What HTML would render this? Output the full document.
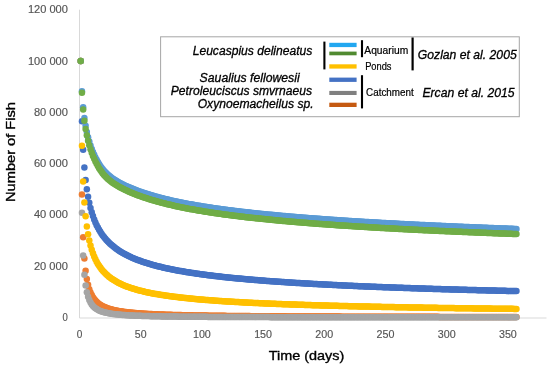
<!DOCTYPE html>
<html><head><meta charset="utf-8"><title>Number of Fish over Time</title>
<style>html,body{margin:0;padding:0;background:#fff}svg{display:block}text{font-family:"Liberation Sans",sans-serif}</style></head><body>
<svg width="550" height="370" viewBox="0 0 550 370">
<rect width="550" height="370" fill="#fff"/>
<line x1="79.5" y1="9.7" x2="79.5" y2="318.0" stroke="#d9d9d9" stroke-width="1"/>
<line x1="79.5" y1="318.0" x2="546.5" y2="318.0" stroke="#d9d9d9" stroke-width="1"/>
<text x="67.9" y="321.0" font-size="10.6" fill="#555" stroke="#555" stroke-width="0.15" text-anchor="end" textLength="5.3" lengthAdjust="spacingAndGlyphs">0</text>
<text x="67.9" y="269.7" font-size="10.6" fill="#555" stroke="#555" stroke-width="0.15" text-anchor="end" textLength="34.0" lengthAdjust="spacingAndGlyphs">20 000</text>
<text x="67.9" y="218.4" font-size="10.6" fill="#555" stroke="#555" stroke-width="0.15" text-anchor="end" textLength="34.0" lengthAdjust="spacingAndGlyphs">40 000</text>
<text x="67.9" y="167.1" font-size="10.6" fill="#555" stroke="#555" stroke-width="0.15" text-anchor="end" textLength="34.0" lengthAdjust="spacingAndGlyphs">60 000</text>
<text x="67.9" y="115.8" font-size="10.6" fill="#555" stroke="#555" stroke-width="0.15" text-anchor="end" textLength="34.0" lengthAdjust="spacingAndGlyphs">80 000</text>
<text x="67.9" y="64.5" font-size="10.6" fill="#555" stroke="#555" stroke-width="0.15" text-anchor="end" textLength="40.0" lengthAdjust="spacingAndGlyphs">100 000</text>
<text x="67.9" y="13.2" font-size="10.6" fill="#555" stroke="#555" stroke-width="0.15" text-anchor="end" textLength="40.0" lengthAdjust="spacingAndGlyphs">120 000</text>
<text x="79.5" y="338.0" font-size="10.6" fill="#555" stroke="#555" stroke-width="0.15" text-anchor="middle" textLength="5.6" lengthAdjust="spacingAndGlyphs">0</text>
<text x="140.7" y="338.0" font-size="10.6" fill="#555" stroke="#555" stroke-width="0.15" text-anchor="middle" textLength="11.7" lengthAdjust="spacingAndGlyphs">50</text>
<text x="201.9" y="338.0" font-size="10.6" fill="#555" stroke="#555" stroke-width="0.15" text-anchor="middle" textLength="17.9" lengthAdjust="spacingAndGlyphs">100</text>
<text x="263.1" y="338.0" font-size="10.6" fill="#555" stroke="#555" stroke-width="0.15" text-anchor="middle" textLength="17.9" lengthAdjust="spacingAndGlyphs">150</text>
<text x="324.3" y="338.0" font-size="10.6" fill="#555" stroke="#555" stroke-width="0.15" text-anchor="middle" textLength="17.9" lengthAdjust="spacingAndGlyphs">200</text>
<text x="385.5" y="338.0" font-size="10.6" fill="#555" stroke="#555" stroke-width="0.15" text-anchor="middle" textLength="17.9" lengthAdjust="spacingAndGlyphs">250</text>
<text x="446.7" y="338.0" font-size="10.6" fill="#555" stroke="#555" stroke-width="0.15" text-anchor="middle" textLength="17.9" lengthAdjust="spacingAndGlyphs">300</text>
<text x="507.9" y="338.0" font-size="10.6" fill="#555" stroke="#555" stroke-width="0.15" text-anchor="middle" textLength="17.9" lengthAdjust="spacingAndGlyphs">350</text>
<text transform="translate(15.2,152) rotate(-90)" font-size="13" fill="#000" stroke="#000" stroke-width="0.35" text-anchor="middle" textLength="100" lengthAdjust="spacingAndGlyphs">Number of Fish</text>
<text x="306.5" y="360.1" font-size="13.2" fill="#000" stroke="#000" stroke-width="0.35" text-anchor="middle" textLength="75.6" lengthAdjust="spacingAndGlyphs">Time (days)</text>
<g fill="#4472C4">
<circle cx="80.72" cy="61.00" r="3.25"/>
<circle cx="81.95" cy="121.35" r="3.25"/>
<circle cx="83.17" cy="149.84" r="3.25"/>
<circle cx="84.40" cy="167.50" r="3.25"/>
<circle cx="85.62" cy="179.91" r="3.25"/>
<circle cx="86.84" cy="189.28" r="3.25"/>
<circle cx="88.07" cy="196.71" r="3.25"/>
<circle cx="89.29" cy="202.79" r="3.25"/>
<circle cx="90.52" cy="207.90" r="3.25"/>
<circle cx="91.74" cy="212.28" r="3.25"/>
<circle cx="92.96" cy="216.09" r="3.25"/>
<circle cx="94.19" cy="219.45" r="3.25"/>
<circle cx="95.41" cy="222.44" r="3.25"/>
<circle cx="96.64" cy="225.13" r="3.25"/>
<circle cx="97.86" cy="227.56" r="3.25"/>
<circle cx="99.08" cy="229.78" r="3.25"/>
<circle cx="100.31" cy="231.82" r="3.25"/>
<circle cx="101.53" cy="233.69" r="3.25"/>
<circle cx="102.76" cy="235.43" r="3.25"/>
<circle cx="103.98" cy="237.04" r="3.25"/>
<circle cx="105.20" cy="238.54" r="3.25"/>
<circle cx="106.43" cy="239.95" r="3.25"/>
<circle cx="107.65" cy="241.27" r="3.25"/>
<circle cx="108.88" cy="242.52" r="3.25"/>
<circle cx="110.10" cy="243.70" r="3.25"/>
<circle cx="111.32" cy="244.81" r="3.25"/>
<circle cx="112.55" cy="245.86" r="3.25"/>
<circle cx="113.77" cy="246.86" r="3.25"/>
<circle cx="115.00" cy="247.81" r="3.25"/>
<circle cx="116.22" cy="248.72" r="3.25"/>
<circle cx="117.44" cy="249.59" r="3.25"/>
<circle cx="118.67" cy="250.42" r="3.25"/>
<circle cx="119.89" cy="251.21" r="3.25"/>
<circle cx="121.12" cy="251.98" r="3.25"/>
<circle cx="122.34" cy="252.71" r="3.25"/>
<circle cx="123.56" cy="253.41" r="3.25"/>
<circle cx="124.79" cy="254.08" r="3.25"/>
<circle cx="126.01" cy="254.74" r="3.25"/>
<circle cx="127.24" cy="255.36" r="3.25"/>
<circle cx="128.46" cy="255.97" r="3.25"/>
<circle cx="129.68" cy="256.55" r="3.25"/>
<circle cx="130.91" cy="257.12" r="3.25"/>
<circle cx="132.13" cy="257.67" r="3.25"/>
<circle cx="133.36" cy="258.20" r="3.25"/>
<circle cx="134.58" cy="258.71" r="3.25"/>
<circle cx="135.80" cy="259.21" r="3.25"/>
<circle cx="137.03" cy="259.69" r="3.25"/>
<circle cx="138.25" cy="260.16" r="3.25"/>
<circle cx="139.48" cy="260.62" r="3.25"/>
<circle cx="140.70" cy="261.06" r="3.25"/>
<circle cx="141.92" cy="261.49" r="3.25"/>
<circle cx="143.15" cy="261.91" r="3.25"/>
<circle cx="144.37" cy="262.32" r="3.25"/>
<circle cx="145.60" cy="262.72" r="3.25"/>
<circle cx="146.82" cy="263.10" r="3.25"/>
<circle cx="148.04" cy="263.48" r="3.25"/>
<circle cx="149.27" cy="263.85" r="3.25"/>
<circle cx="150.49" cy="264.21" r="3.25"/>
<circle cx="151.72" cy="264.56" r="3.25"/>
<circle cx="152.94" cy="264.91" r="3.25"/>
<circle cx="154.16" cy="265.24" r="3.25"/>
<circle cx="155.39" cy="265.57" r="3.25"/>
<circle cx="156.61" cy="265.89" r="3.25"/>
<circle cx="157.84" cy="266.20" r="3.25"/>
<circle cx="159.06" cy="266.51" r="3.25"/>
<circle cx="160.28" cy="266.81" r="3.25"/>
<circle cx="161.51" cy="267.10" r="3.25"/>
<circle cx="162.73" cy="267.39" r="3.25"/>
<circle cx="163.96" cy="267.67" r="3.25"/>
<circle cx="165.18" cy="267.95" r="3.25"/>
<circle cx="166.40" cy="268.22" r="3.25"/>
<circle cx="167.63" cy="268.49" r="3.25"/>
<circle cx="168.85" cy="268.75" r="3.25"/>
<circle cx="170.08" cy="269.01" r="3.25"/>
<circle cx="171.30" cy="269.26" r="3.25"/>
<circle cx="172.52" cy="269.50" r="3.25"/>
<circle cx="173.75" cy="269.75" r="3.25"/>
<circle cx="174.97" cy="269.98" r="3.25"/>
<circle cx="176.20" cy="270.22" r="3.25"/>
<circle cx="177.42" cy="270.45" r="3.25"/>
<circle cx="178.64" cy="270.67" r="3.25"/>
<circle cx="179.87" cy="270.89" r="3.25"/>
<circle cx="181.09" cy="271.11" r="3.25"/>
<circle cx="182.32" cy="271.33" r="3.25"/>
<circle cx="183.54" cy="271.54" r="3.25"/>
<circle cx="184.76" cy="271.75" r="3.25"/>
<circle cx="185.99" cy="271.95" r="3.25"/>
<circle cx="187.21" cy="272.15" r="3.25"/>
<circle cx="188.44" cy="272.35" r="3.25"/>
<circle cx="189.66" cy="272.54" r="3.25"/>
<circle cx="190.88" cy="272.74" r="3.25"/>
<circle cx="192.11" cy="272.92" r="3.25"/>
<circle cx="193.33" cy="273.11" r="3.25"/>
<circle cx="194.56" cy="273.29" r="3.25"/>
<circle cx="195.78" cy="273.47" r="3.25"/>
<circle cx="197.00" cy="273.65" r="3.25"/>
<circle cx="198.23" cy="273.83" r="3.25"/>
<circle cx="199.45" cy="274.00" r="3.25"/>
<circle cx="200.68" cy="274.17" r="3.25"/>
<circle cx="201.90" cy="274.34" r="3.25"/>
<circle cx="203.12" cy="274.51" r="3.25"/>
<circle cx="204.35" cy="274.67" r="3.25"/>
<circle cx="205.57" cy="274.83" r="3.25"/>
<circle cx="206.80" cy="274.99" r="3.25"/>
<circle cx="208.02" cy="275.15" r="3.25"/>
<circle cx="209.24" cy="275.30" r="3.25"/>
<circle cx="210.47" cy="275.45" r="3.25"/>
<circle cx="211.69" cy="275.61" r="3.25"/>
<circle cx="212.92" cy="275.76" r="3.25"/>
<circle cx="214.14" cy="275.90" r="3.25"/>
<circle cx="215.36" cy="276.05" r="3.25"/>
<circle cx="216.59" cy="276.19" r="3.25"/>
<circle cx="217.81" cy="276.33" r="3.25"/>
<circle cx="219.04" cy="276.47" r="3.25"/>
<circle cx="220.26" cy="276.61" r="3.25"/>
<circle cx="221.48" cy="276.75" r="3.25"/>
<circle cx="222.71" cy="276.88" r="3.25"/>
<circle cx="223.93" cy="277.02" r="3.25"/>
<circle cx="225.16" cy="277.15" r="3.25"/>
<circle cx="226.38" cy="277.28" r="3.25"/>
<circle cx="227.60" cy="277.41" r="3.25"/>
<circle cx="228.83" cy="277.54" r="3.25"/>
<circle cx="230.05" cy="277.66" r="3.25"/>
<circle cx="231.28" cy="277.79" r="3.25"/>
<circle cx="232.50" cy="277.91" r="3.25"/>
<circle cx="233.72" cy="278.03" r="3.25"/>
<circle cx="234.95" cy="278.15" r="3.25"/>
<circle cx="236.17" cy="278.27" r="3.25"/>
<circle cx="237.40" cy="278.39" r="3.25"/>
<circle cx="238.62" cy="278.51" r="3.25"/>
<circle cx="239.84" cy="278.62" r="3.25"/>
<circle cx="241.07" cy="278.74" r="3.25"/>
<circle cx="242.29" cy="278.85" r="3.25"/>
<circle cx="243.52" cy="278.96" r="3.25"/>
<circle cx="244.74" cy="279.07" r="3.25"/>
<circle cx="245.96" cy="279.18" r="3.25"/>
<circle cx="247.19" cy="279.29" r="3.25"/>
<circle cx="248.41" cy="279.40" r="3.25"/>
<circle cx="249.64" cy="279.50" r="3.25"/>
<circle cx="250.86" cy="279.61" r="3.25"/>
<circle cx="252.08" cy="279.71" r="3.25"/>
<circle cx="253.31" cy="279.82" r="3.25"/>
<circle cx="254.53" cy="279.92" r="3.25"/>
<circle cx="255.76" cy="280.02" r="3.25"/>
<circle cx="256.98" cy="280.12" r="3.25"/>
<circle cx="258.20" cy="280.22" r="3.25"/>
<circle cx="259.43" cy="280.32" r="3.25"/>
<circle cx="260.65" cy="280.42" r="3.25"/>
<circle cx="261.88" cy="280.51" r="3.25"/>
<circle cx="263.10" cy="280.61" r="3.25"/>
<circle cx="264.32" cy="280.70" r="3.25"/>
<circle cx="265.55" cy="280.80" r="3.25"/>
<circle cx="266.77" cy="280.89" r="3.25"/>
<circle cx="268.00" cy="280.98" r="3.25"/>
<circle cx="269.22" cy="281.07" r="3.25"/>
<circle cx="270.44" cy="281.16" r="3.25"/>
<circle cx="271.67" cy="281.25" r="3.25"/>
<circle cx="272.89" cy="281.34" r="3.25"/>
<circle cx="274.12" cy="281.43" r="3.25"/>
<circle cx="275.34" cy="281.52" r="3.25"/>
<circle cx="276.56" cy="281.60" r="3.25"/>
<circle cx="277.79" cy="281.69" r="3.25"/>
<circle cx="279.01" cy="281.78" r="3.25"/>
<circle cx="280.24" cy="281.86" r="3.25"/>
<circle cx="281.46" cy="281.94" r="3.25"/>
<circle cx="282.68" cy="282.03" r="3.25"/>
<circle cx="283.91" cy="282.11" r="3.25"/>
<circle cx="285.13" cy="282.19" r="3.25"/>
<circle cx="286.36" cy="282.27" r="3.25"/>
<circle cx="287.58" cy="282.35" r="3.25"/>
<circle cx="288.80" cy="282.43" r="3.25"/>
<circle cx="290.03" cy="282.51" r="3.25"/>
<circle cx="291.25" cy="282.59" r="3.25"/>
<circle cx="292.48" cy="282.67" r="3.25"/>
<circle cx="293.70" cy="282.74" r="3.25"/>
<circle cx="294.92" cy="282.82" r="3.25"/>
<circle cx="296.15" cy="282.90" r="3.25"/>
<circle cx="297.37" cy="282.97" r="3.25"/>
<circle cx="298.60" cy="283.05" r="3.25"/>
<circle cx="299.82" cy="283.12" r="3.25"/>
<circle cx="301.04" cy="283.19" r="3.25"/>
<circle cx="302.27" cy="283.27" r="3.25"/>
<circle cx="303.49" cy="283.34" r="3.25"/>
<circle cx="304.72" cy="283.41" r="3.25"/>
<circle cx="305.94" cy="283.48" r="3.25"/>
<circle cx="307.16" cy="283.55" r="3.25"/>
<circle cx="308.39" cy="283.62" r="3.25"/>
<circle cx="309.61" cy="283.69" r="3.25"/>
<circle cx="310.84" cy="283.76" r="3.25"/>
<circle cx="312.06" cy="283.83" r="3.25"/>
<circle cx="313.28" cy="283.90" r="3.25"/>
<circle cx="314.51" cy="283.97" r="3.25"/>
<circle cx="315.73" cy="284.04" r="3.25"/>
<circle cx="316.96" cy="284.10" r="3.25"/>
<circle cx="318.18" cy="284.17" r="3.25"/>
<circle cx="319.40" cy="284.24" r="3.25"/>
<circle cx="320.63" cy="284.30" r="3.25"/>
<circle cx="321.85" cy="284.37" r="3.25"/>
<circle cx="323.08" cy="284.43" r="3.25"/>
<circle cx="324.30" cy="284.49" r="3.25"/>
<circle cx="325.52" cy="284.56" r="3.25"/>
<circle cx="326.75" cy="284.62" r="3.25"/>
<circle cx="327.97" cy="284.68" r="3.25"/>
<circle cx="329.20" cy="284.75" r="3.25"/>
<circle cx="330.42" cy="284.81" r="3.25"/>
<circle cx="331.64" cy="284.87" r="3.25"/>
<circle cx="332.87" cy="284.93" r="3.25"/>
<circle cx="334.09" cy="284.99" r="3.25"/>
<circle cx="335.32" cy="285.05" r="3.25"/>
<circle cx="336.54" cy="285.11" r="3.25"/>
<circle cx="337.76" cy="285.17" r="3.25"/>
<circle cx="338.99" cy="285.23" r="3.25"/>
<circle cx="340.21" cy="285.29" r="3.25"/>
<circle cx="341.44" cy="285.35" r="3.25"/>
<circle cx="342.66" cy="285.41" r="3.25"/>
<circle cx="343.88" cy="285.46" r="3.25"/>
<circle cx="345.11" cy="285.52" r="3.25"/>
<circle cx="346.33" cy="285.58" r="3.25"/>
<circle cx="347.56" cy="285.63" r="3.25"/>
<circle cx="348.78" cy="285.69" r="3.25"/>
<circle cx="350.00" cy="285.75" r="3.25"/>
<circle cx="351.23" cy="285.80" r="3.25"/>
<circle cx="352.45" cy="285.86" r="3.25"/>
<circle cx="353.68" cy="285.91" r="3.25"/>
<circle cx="354.90" cy="285.97" r="3.25"/>
<circle cx="356.12" cy="286.02" r="3.25"/>
<circle cx="357.35" cy="286.07" r="3.25"/>
<circle cx="358.57" cy="286.13" r="3.25"/>
<circle cx="359.80" cy="286.18" r="3.25"/>
<circle cx="361.02" cy="286.23" r="3.25"/>
<circle cx="362.24" cy="286.28" r="3.25"/>
<circle cx="363.47" cy="286.34" r="3.25"/>
<circle cx="364.69" cy="286.39" r="3.25"/>
<circle cx="365.92" cy="286.44" r="3.25"/>
<circle cx="367.14" cy="286.49" r="3.25"/>
<circle cx="368.36" cy="286.54" r="3.25"/>
<circle cx="369.59" cy="286.59" r="3.25"/>
<circle cx="370.81" cy="286.64" r="3.25"/>
<circle cx="372.04" cy="286.69" r="3.25"/>
<circle cx="373.26" cy="286.74" r="3.25"/>
<circle cx="374.48" cy="286.79" r="3.25"/>
<circle cx="375.71" cy="286.84" r="3.25"/>
<circle cx="376.93" cy="286.89" r="3.25"/>
<circle cx="378.16" cy="286.94" r="3.25"/>
<circle cx="379.38" cy="286.99" r="3.25"/>
<circle cx="380.60" cy="287.04" r="3.25"/>
<circle cx="381.83" cy="287.08" r="3.25"/>
<circle cx="383.05" cy="287.13" r="3.25"/>
<circle cx="384.28" cy="287.18" r="3.25"/>
<circle cx="385.50" cy="287.22" r="3.25"/>
<circle cx="386.72" cy="287.27" r="3.25"/>
<circle cx="387.95" cy="287.32" r="3.25"/>
<circle cx="389.17" cy="287.36" r="3.25"/>
<circle cx="390.40" cy="287.41" r="3.25"/>
<circle cx="391.62" cy="287.46" r="3.25"/>
<circle cx="392.84" cy="287.50" r="3.25"/>
<circle cx="394.07" cy="287.55" r="3.25"/>
<circle cx="395.29" cy="287.59" r="3.25"/>
<circle cx="396.52" cy="287.64" r="3.25"/>
<circle cx="397.74" cy="287.68" r="3.25"/>
<circle cx="398.96" cy="287.73" r="3.25"/>
<circle cx="400.19" cy="287.77" r="3.25"/>
<circle cx="401.41" cy="287.81" r="3.25"/>
<circle cx="402.64" cy="287.86" r="3.25"/>
<circle cx="403.86" cy="287.90" r="3.25"/>
<circle cx="405.08" cy="287.94" r="3.25"/>
<circle cx="406.31" cy="287.99" r="3.25"/>
<circle cx="407.53" cy="288.03" r="3.25"/>
<circle cx="408.76" cy="288.07" r="3.25"/>
<circle cx="409.98" cy="288.11" r="3.25"/>
<circle cx="411.20" cy="288.16" r="3.25"/>
<circle cx="412.43" cy="288.20" r="3.25"/>
<circle cx="413.65" cy="288.24" r="3.25"/>
<circle cx="414.88" cy="288.28" r="3.25"/>
<circle cx="416.10" cy="288.32" r="3.25"/>
<circle cx="417.32" cy="288.36" r="3.25"/>
<circle cx="418.55" cy="288.40" r="3.25"/>
<circle cx="419.77" cy="288.44" r="3.25"/>
<circle cx="421.00" cy="288.48" r="3.25"/>
<circle cx="422.22" cy="288.52" r="3.25"/>
<circle cx="423.44" cy="288.56" r="3.25"/>
<circle cx="424.67" cy="288.60" r="3.25"/>
<circle cx="425.89" cy="288.64" r="3.25"/>
<circle cx="427.12" cy="288.68" r="3.25"/>
<circle cx="428.34" cy="288.72" r="3.25"/>
<circle cx="429.56" cy="288.76" r="3.25"/>
<circle cx="430.79" cy="288.80" r="3.25"/>
<circle cx="432.01" cy="288.84" r="3.25"/>
<circle cx="433.24" cy="288.88" r="3.25"/>
<circle cx="434.46" cy="288.91" r="3.25"/>
<circle cx="435.68" cy="288.95" r="3.25"/>
<circle cx="436.91" cy="288.99" r="3.25"/>
<circle cx="438.13" cy="289.03" r="3.25"/>
<circle cx="439.36" cy="289.07" r="3.25"/>
<circle cx="440.58" cy="289.10" r="3.25"/>
<circle cx="441.80" cy="289.14" r="3.25"/>
<circle cx="443.03" cy="289.18" r="3.25"/>
<circle cx="444.25" cy="289.21" r="3.25"/>
<circle cx="445.48" cy="289.25" r="3.25"/>
<circle cx="446.70" cy="289.29" r="3.25"/>
<circle cx="447.92" cy="289.32" r="3.25"/>
<circle cx="449.15" cy="289.36" r="3.25"/>
<circle cx="450.37" cy="289.40" r="3.25"/>
<circle cx="451.60" cy="289.43" r="3.25"/>
<circle cx="452.82" cy="289.47" r="3.25"/>
<circle cx="454.04" cy="289.50" r="3.25"/>
<circle cx="455.27" cy="289.54" r="3.25"/>
<circle cx="456.49" cy="289.57" r="3.25"/>
<circle cx="457.72" cy="289.61" r="3.25"/>
<circle cx="458.94" cy="289.64" r="3.25"/>
<circle cx="460.16" cy="289.68" r="3.25"/>
<circle cx="461.39" cy="289.71" r="3.25"/>
<circle cx="462.61" cy="289.75" r="3.25"/>
<circle cx="463.84" cy="289.78" r="3.25"/>
<circle cx="465.06" cy="289.82" r="3.25"/>
<circle cx="466.28" cy="289.85" r="3.25"/>
<circle cx="467.51" cy="289.88" r="3.25"/>
<circle cx="468.73" cy="289.92" r="3.25"/>
<circle cx="469.96" cy="289.95" r="3.25"/>
<circle cx="471.18" cy="289.98" r="3.25"/>
<circle cx="472.40" cy="290.02" r="3.25"/>
<circle cx="473.63" cy="290.05" r="3.25"/>
<circle cx="474.85" cy="290.08" r="3.25"/>
<circle cx="476.08" cy="290.12" r="3.25"/>
<circle cx="477.30" cy="290.15" r="3.25"/>
<circle cx="478.52" cy="290.18" r="3.25"/>
<circle cx="479.75" cy="290.21" r="3.25"/>
<circle cx="480.97" cy="290.25" r="3.25"/>
<circle cx="482.20" cy="290.28" r="3.25"/>
<circle cx="483.42" cy="290.31" r="3.25"/>
<circle cx="484.64" cy="290.34" r="3.25"/>
<circle cx="485.87" cy="290.37" r="3.25"/>
<circle cx="487.09" cy="290.40" r="3.25"/>
<circle cx="488.32" cy="290.44" r="3.25"/>
<circle cx="489.54" cy="290.47" r="3.25"/>
<circle cx="490.76" cy="290.50" r="3.25"/>
<circle cx="491.99" cy="290.53" r="3.25"/>
<circle cx="493.21" cy="290.56" r="3.25"/>
<circle cx="494.44" cy="290.59" r="3.25"/>
<circle cx="495.66" cy="290.62" r="3.25"/>
<circle cx="496.88" cy="290.65" r="3.25"/>
<circle cx="498.11" cy="290.68" r="3.25"/>
<circle cx="499.33" cy="290.71" r="3.25"/>
<circle cx="500.56" cy="290.74" r="3.25"/>
<circle cx="501.78" cy="290.77" r="3.25"/>
<circle cx="503.00" cy="290.80" r="3.25"/>
<circle cx="504.23" cy="290.83" r="3.25"/>
<circle cx="505.45" cy="290.86" r="3.25"/>
<circle cx="506.68" cy="290.89" r="3.25"/>
<circle cx="507.90" cy="290.92" r="3.25"/>
<circle cx="509.12" cy="290.95" r="3.25"/>
<circle cx="510.35" cy="290.98" r="3.25"/>
<circle cx="511.57" cy="291.01" r="3.25"/>
<circle cx="512.80" cy="291.04" r="3.25"/>
<circle cx="514.02" cy="291.07" r="3.25"/>
<circle cx="515.24" cy="291.10" r="3.25"/>
<circle cx="516.47" cy="291.12" r="3.25"/>
</g>
<g fill="#ED7D31">
<circle cx="80.72" cy="61.00" r="3.25"/>
<circle cx="81.95" cy="194.39" r="3.25"/>
<circle cx="83.17" cy="237.37" r="3.25"/>
<circle cx="84.40" cy="258.41" r="3.25"/>
<circle cx="85.62" cy="270.85" r="3.25"/>
<circle cx="86.84" cy="279.04" r="3.25"/>
<circle cx="88.07" cy="284.83" r="3.25"/>
<circle cx="89.29" cy="289.14" r="3.25"/>
<circle cx="90.52" cy="292.47" r="3.25"/>
<circle cx="91.74" cy="295.11" r="3.25"/>
<circle cx="92.96" cy="297.26" r="3.25"/>
<circle cx="94.19" cy="299.04" r="3.25"/>
<circle cx="95.41" cy="300.54" r="3.25"/>
<circle cx="96.64" cy="301.82" r="3.25"/>
<circle cx="97.86" cy="302.93" r="3.25"/>
<circle cx="99.08" cy="303.89" r="3.25"/>
<circle cx="100.31" cy="304.73" r="3.25"/>
<circle cx="101.53" cy="305.48" r="3.25"/>
<circle cx="102.76" cy="306.15" r="3.25"/>
<circle cx="103.98" cy="306.75" r="3.25"/>
<circle cx="105.20" cy="307.29" r="3.25"/>
<circle cx="106.43" cy="307.78" r="3.25"/>
<circle cx="107.65" cy="308.23" r="3.25"/>
<circle cx="108.88" cy="308.64" r="3.25"/>
<circle cx="110.10" cy="309.01" r="3.25"/>
<circle cx="111.32" cy="309.36" r="3.25"/>
<circle cx="112.55" cy="309.68" r="3.25"/>
<circle cx="113.77" cy="309.97" r="3.25"/>
<circle cx="115.00" cy="310.25" r="3.25"/>
<circle cx="116.22" cy="310.50" r="3.25"/>
<circle cx="117.44" cy="310.74" r="3.25"/>
<circle cx="118.67" cy="310.97" r="3.25"/>
<circle cx="119.89" cy="311.18" r="3.25"/>
<circle cx="121.12" cy="311.37" r="3.25"/>
<circle cx="122.34" cy="311.56" r="3.25"/>
<circle cx="123.56" cy="311.73" r="3.25"/>
<circle cx="124.79" cy="311.90" r="3.25"/>
<circle cx="126.01" cy="312.05" r="3.25"/>
<circle cx="127.24" cy="312.20" r="3.25"/>
<circle cx="128.46" cy="312.34" r="3.25"/>
<circle cx="129.68" cy="312.47" r="3.25"/>
<circle cx="130.91" cy="312.60" r="3.25"/>
<circle cx="132.13" cy="312.72" r="3.25"/>
<circle cx="133.36" cy="312.84" r="3.25"/>
<circle cx="134.58" cy="312.95" r="3.25"/>
<circle cx="135.80" cy="313.05" r="3.25"/>
<circle cx="137.03" cy="313.15" r="3.25"/>
<circle cx="138.25" cy="313.25" r="3.25"/>
<circle cx="139.48" cy="313.34" r="3.25"/>
<circle cx="140.70" cy="313.43" r="3.25"/>
<circle cx="141.92" cy="313.51" r="3.25"/>
<circle cx="143.15" cy="313.59" r="3.25"/>
<circle cx="144.37" cy="313.67" r="3.25"/>
<circle cx="145.60" cy="313.75" r="3.25"/>
<circle cx="146.82" cy="313.82" r="3.25"/>
<circle cx="148.04" cy="313.89" r="3.25"/>
<circle cx="149.27" cy="313.96" r="3.25"/>
<circle cx="150.49" cy="314.02" r="3.25"/>
<circle cx="151.72" cy="314.08" r="3.25"/>
<circle cx="152.94" cy="314.14" r="3.25"/>
<circle cx="154.16" cy="314.20" r="3.25"/>
<circle cx="155.39" cy="314.26" r="3.25"/>
<circle cx="156.61" cy="314.31" r="3.25"/>
<circle cx="157.84" cy="314.36" r="3.25"/>
<circle cx="159.06" cy="314.42" r="3.25"/>
<circle cx="160.28" cy="314.46" r="3.25"/>
<circle cx="161.51" cy="314.51" r="3.25"/>
<circle cx="162.73" cy="314.56" r="3.25"/>
<circle cx="163.96" cy="314.60" r="3.25"/>
<circle cx="165.18" cy="314.65" r="3.25"/>
<circle cx="166.40" cy="314.69" r="3.25"/>
<circle cx="167.63" cy="314.73" r="3.25"/>
<circle cx="168.85" cy="314.77" r="3.25"/>
<circle cx="170.08" cy="314.81" r="3.25"/>
<circle cx="171.30" cy="314.85" r="3.25"/>
<circle cx="172.52" cy="314.89" r="3.25"/>
<circle cx="173.75" cy="314.92" r="3.25"/>
<circle cx="174.97" cy="314.96" r="3.25"/>
<circle cx="176.20" cy="314.99" r="3.25"/>
<circle cx="177.42" cy="315.02" r="3.25"/>
<circle cx="178.64" cy="315.06" r="3.25"/>
<circle cx="179.87" cy="315.09" r="3.25"/>
<circle cx="181.09" cy="315.12" r="3.25"/>
<circle cx="182.32" cy="315.15" r="3.25"/>
<circle cx="183.54" cy="315.18" r="3.25"/>
<circle cx="184.76" cy="315.21" r="3.25"/>
<circle cx="185.99" cy="315.23" r="3.25"/>
<circle cx="187.21" cy="315.26" r="3.25"/>
<circle cx="188.44" cy="315.29" r="3.25"/>
<circle cx="189.66" cy="315.31" r="3.25"/>
<circle cx="190.88" cy="315.34" r="3.25"/>
<circle cx="192.11" cy="315.36" r="3.25"/>
<circle cx="193.33" cy="315.39" r="3.25"/>
<circle cx="194.56" cy="315.41" r="3.25"/>
<circle cx="195.78" cy="315.44" r="3.25"/>
<circle cx="197.00" cy="315.46" r="3.25"/>
<circle cx="198.23" cy="315.48" r="3.25"/>
<circle cx="199.45" cy="315.50" r="3.25"/>
<circle cx="200.68" cy="315.52" r="3.25"/>
<circle cx="201.90" cy="315.55" r="3.25"/>
<circle cx="203.12" cy="315.57" r="3.25"/>
<circle cx="204.35" cy="315.59" r="3.25"/>
<circle cx="205.57" cy="315.61" r="3.25"/>
<circle cx="206.80" cy="315.62" r="3.25"/>
<circle cx="208.02" cy="315.64" r="3.25"/>
<circle cx="209.24" cy="315.66" r="3.25"/>
<circle cx="210.47" cy="315.68" r="3.25"/>
<circle cx="211.69" cy="315.70" r="3.25"/>
<circle cx="212.92" cy="315.72" r="3.25"/>
<circle cx="214.14" cy="315.73" r="3.25"/>
<circle cx="215.36" cy="315.75" r="3.25"/>
<circle cx="216.59" cy="315.77" r="3.25"/>
<circle cx="217.81" cy="315.78" r="3.25"/>
<circle cx="219.04" cy="315.80" r="3.25"/>
<circle cx="220.26" cy="315.81" r="3.25"/>
<circle cx="221.48" cy="315.83" r="3.25"/>
<circle cx="222.71" cy="315.84" r="3.25"/>
<circle cx="223.93" cy="315.86" r="3.25"/>
<circle cx="225.16" cy="315.87" r="3.25"/>
<circle cx="226.38" cy="315.89" r="3.25"/>
<circle cx="227.60" cy="315.90" r="3.25"/>
<circle cx="228.83" cy="315.92" r="3.25"/>
<circle cx="230.05" cy="315.93" r="3.25"/>
<circle cx="231.28" cy="315.94" r="3.25"/>
<circle cx="232.50" cy="315.96" r="3.25"/>
<circle cx="233.72" cy="315.97" r="3.25"/>
<circle cx="234.95" cy="315.98" r="3.25"/>
<circle cx="236.17" cy="315.99" r="3.25"/>
<circle cx="237.40" cy="316.01" r="3.25"/>
<circle cx="238.62" cy="316.02" r="3.25"/>
<circle cx="239.84" cy="316.03" r="3.25"/>
<circle cx="241.07" cy="316.04" r="3.25"/>
<circle cx="242.29" cy="316.05" r="3.25"/>
<circle cx="243.52" cy="316.07" r="3.25"/>
<circle cx="244.74" cy="316.08" r="3.25"/>
<circle cx="245.96" cy="316.09" r="3.25"/>
<circle cx="247.19" cy="316.10" r="3.25"/>
<circle cx="248.41" cy="316.11" r="3.25"/>
<circle cx="249.64" cy="316.12" r="3.25"/>
<circle cx="250.86" cy="316.13" r="3.25"/>
<circle cx="252.08" cy="316.14" r="3.25"/>
<circle cx="253.31" cy="316.15" r="3.25"/>
<circle cx="254.53" cy="316.16" r="3.25"/>
<circle cx="255.76" cy="316.17" r="3.25"/>
<circle cx="256.98" cy="316.18" r="3.25"/>
<circle cx="258.20" cy="316.19" r="3.25"/>
<circle cx="259.43" cy="316.20" r="3.25"/>
<circle cx="260.65" cy="316.21" r="3.25"/>
<circle cx="261.88" cy="316.22" r="3.25"/>
<circle cx="263.10" cy="316.23" r="3.25"/>
<circle cx="264.32" cy="316.24" r="3.25"/>
<circle cx="265.55" cy="316.25" r="3.25"/>
<circle cx="266.77" cy="316.25" r="3.25"/>
<circle cx="268.00" cy="316.26" r="3.25"/>
<circle cx="269.22" cy="316.27" r="3.25"/>
<circle cx="270.44" cy="316.28" r="3.25"/>
<circle cx="271.67" cy="316.29" r="3.25"/>
<circle cx="272.89" cy="316.30" r="3.25"/>
<circle cx="274.12" cy="316.30" r="3.25"/>
<circle cx="275.34" cy="316.31" r="3.25"/>
<circle cx="276.56" cy="316.32" r="3.25"/>
<circle cx="277.79" cy="316.33" r="3.25"/>
<circle cx="279.01" cy="316.33" r="3.25"/>
<circle cx="280.24" cy="316.34" r="3.25"/>
<circle cx="281.46" cy="316.35" r="3.25"/>
<circle cx="282.68" cy="316.36" r="3.25"/>
<circle cx="283.91" cy="316.36" r="3.25"/>
<circle cx="285.13" cy="316.37" r="3.25"/>
<circle cx="286.36" cy="316.38" r="3.25"/>
<circle cx="287.58" cy="316.39" r="3.25"/>
<circle cx="288.80" cy="316.39" r="3.25"/>
<circle cx="290.03" cy="316.40" r="3.25"/>
<circle cx="291.25" cy="316.41" r="3.25"/>
<circle cx="292.48" cy="316.41" r="3.25"/>
<circle cx="293.70" cy="316.42" r="3.25"/>
<circle cx="294.92" cy="316.43" r="3.25"/>
<circle cx="296.15" cy="316.43" r="3.25"/>
<circle cx="297.37" cy="316.44" r="3.25"/>
<circle cx="298.60" cy="316.44" r="3.25"/>
<circle cx="299.82" cy="316.45" r="3.25"/>
<circle cx="301.04" cy="316.46" r="3.25"/>
<circle cx="302.27" cy="316.46" r="3.25"/>
<circle cx="303.49" cy="316.47" r="3.25"/>
<circle cx="304.72" cy="316.48" r="3.25"/>
<circle cx="305.94" cy="316.48" r="3.25"/>
<circle cx="307.16" cy="316.49" r="3.25"/>
<circle cx="308.39" cy="316.49" r="3.25"/>
<circle cx="309.61" cy="316.50" r="3.25"/>
<circle cx="310.84" cy="316.50" r="3.25"/>
<circle cx="312.06" cy="316.51" r="3.25"/>
<circle cx="313.28" cy="316.51" r="3.25"/>
<circle cx="314.51" cy="316.52" r="3.25"/>
<circle cx="315.73" cy="316.53" r="3.25"/>
<circle cx="316.96" cy="316.53" r="3.25"/>
<circle cx="318.18" cy="316.54" r="3.25"/>
<circle cx="319.40" cy="316.54" r="3.25"/>
<circle cx="320.63" cy="316.55" r="3.25"/>
<circle cx="321.85" cy="316.55" r="3.25"/>
<circle cx="323.08" cy="316.56" r="3.25"/>
<circle cx="324.30" cy="316.56" r="3.25"/>
<circle cx="325.52" cy="316.57" r="3.25"/>
<circle cx="326.75" cy="316.57" r="3.25"/>
<circle cx="327.97" cy="316.58" r="3.25"/>
<circle cx="329.20" cy="316.58" r="3.25"/>
<circle cx="330.42" cy="316.59" r="3.25"/>
<circle cx="331.64" cy="316.59" r="3.25"/>
<circle cx="332.87" cy="316.60" r="3.25"/>
<circle cx="334.09" cy="316.60" r="3.25"/>
<circle cx="335.32" cy="316.60" r="3.25"/>
<circle cx="336.54" cy="316.61" r="3.25"/>
<circle cx="337.76" cy="316.61" r="3.25"/>
<circle cx="338.99" cy="316.62" r="3.25"/>
<circle cx="340.21" cy="316.62" r="3.25"/>
<circle cx="341.44" cy="316.63" r="3.25"/>
<circle cx="342.66" cy="316.63" r="3.25"/>
<circle cx="343.88" cy="316.64" r="3.25"/>
<circle cx="345.11" cy="316.64" r="3.25"/>
<circle cx="346.33" cy="316.64" r="3.25"/>
<circle cx="347.56" cy="316.65" r="3.25"/>
<circle cx="348.78" cy="316.65" r="3.25"/>
<circle cx="350.00" cy="316.66" r="3.25"/>
<circle cx="351.23" cy="316.66" r="3.25"/>
<circle cx="352.45" cy="316.66" r="3.25"/>
<circle cx="353.68" cy="316.67" r="3.25"/>
<circle cx="354.90" cy="316.67" r="3.25"/>
<circle cx="356.12" cy="316.68" r="3.25"/>
<circle cx="357.35" cy="316.68" r="3.25"/>
<circle cx="358.57" cy="316.68" r="3.25"/>
<circle cx="359.80" cy="316.69" r="3.25"/>
<circle cx="361.02" cy="316.69" r="3.25"/>
<circle cx="362.24" cy="316.69" r="3.25"/>
<circle cx="363.47" cy="316.70" r="3.25"/>
<circle cx="364.69" cy="316.70" r="3.25"/>
<circle cx="365.92" cy="316.71" r="3.25"/>
<circle cx="367.14" cy="316.71" r="3.25"/>
<circle cx="368.36" cy="316.71" r="3.25"/>
<circle cx="369.59" cy="316.72" r="3.25"/>
<circle cx="370.81" cy="316.72" r="3.25"/>
<circle cx="372.04" cy="316.72" r="3.25"/>
<circle cx="373.26" cy="316.73" r="3.25"/>
<circle cx="374.48" cy="316.73" r="3.25"/>
<circle cx="375.71" cy="316.73" r="3.25"/>
<circle cx="376.93" cy="316.74" r="3.25"/>
<circle cx="378.16" cy="316.74" r="3.25"/>
<circle cx="379.38" cy="316.74" r="3.25"/>
<circle cx="380.60" cy="316.75" r="3.25"/>
<circle cx="381.83" cy="316.75" r="3.25"/>
<circle cx="383.05" cy="316.75" r="3.25"/>
<circle cx="384.28" cy="316.76" r="3.25"/>
<circle cx="385.50" cy="316.76" r="3.25"/>
<circle cx="386.72" cy="316.76" r="3.25"/>
<circle cx="387.95" cy="316.77" r="3.25"/>
<circle cx="389.17" cy="316.77" r="3.25"/>
<circle cx="390.40" cy="316.77" r="3.25"/>
<circle cx="391.62" cy="316.77" r="3.25"/>
<circle cx="392.84" cy="316.78" r="3.25"/>
<circle cx="394.07" cy="316.78" r="3.25"/>
<circle cx="395.29" cy="316.78" r="3.25"/>
<circle cx="396.52" cy="316.79" r="3.25"/>
<circle cx="397.74" cy="316.79" r="3.25"/>
<circle cx="398.96" cy="316.79" r="3.25"/>
<circle cx="400.19" cy="316.80" r="3.25"/>
<circle cx="401.41" cy="316.80" r="3.25"/>
<circle cx="402.64" cy="316.80" r="3.25"/>
<circle cx="403.86" cy="316.80" r="3.25"/>
<circle cx="405.08" cy="316.81" r="3.25"/>
<circle cx="406.31" cy="316.81" r="3.25"/>
<circle cx="407.53" cy="316.81" r="3.25"/>
<circle cx="408.76" cy="316.81" r="3.25"/>
<circle cx="409.98" cy="316.82" r="3.25"/>
<circle cx="411.20" cy="316.82" r="3.25"/>
<circle cx="412.43" cy="316.82" r="3.25"/>
<circle cx="413.65" cy="316.83" r="3.25"/>
<circle cx="414.88" cy="316.83" r="3.25"/>
<circle cx="416.10" cy="316.83" r="3.25"/>
<circle cx="417.32" cy="316.83" r="3.25"/>
<circle cx="418.55" cy="316.84" r="3.25"/>
<circle cx="419.77" cy="316.84" r="3.25"/>
<circle cx="421.00" cy="316.84" r="3.25"/>
<circle cx="422.22" cy="316.84" r="3.25"/>
<circle cx="423.44" cy="316.85" r="3.25"/>
<circle cx="424.67" cy="316.85" r="3.25"/>
<circle cx="425.89" cy="316.85" r="3.25"/>
<circle cx="427.12" cy="316.85" r="3.25"/>
<circle cx="428.34" cy="316.86" r="3.25"/>
<circle cx="429.56" cy="316.86" r="3.25"/>
<circle cx="430.79" cy="316.86" r="3.25"/>
<circle cx="432.01" cy="316.86" r="3.25"/>
<circle cx="433.24" cy="316.86" r="3.25"/>
<circle cx="434.46" cy="316.87" r="3.25"/>
<circle cx="435.68" cy="316.87" r="3.25"/>
<circle cx="436.91" cy="316.87" r="3.25"/>
<circle cx="438.13" cy="316.87" r="3.25"/>
<circle cx="439.36" cy="316.88" r="3.25"/>
<circle cx="440.58" cy="316.88" r="3.25"/>
<circle cx="441.80" cy="316.88" r="3.25"/>
<circle cx="443.03" cy="316.88" r="3.25"/>
<circle cx="444.25" cy="316.88" r="3.25"/>
<circle cx="445.48" cy="316.89" r="3.25"/>
<circle cx="446.70" cy="316.89" r="3.25"/>
<circle cx="447.92" cy="316.89" r="3.25"/>
<circle cx="449.15" cy="316.89" r="3.25"/>
<circle cx="450.37" cy="316.90" r="3.25"/>
<circle cx="451.60" cy="316.90" r="3.25"/>
<circle cx="452.82" cy="316.90" r="3.25"/>
<circle cx="454.04" cy="316.90" r="3.25"/>
<circle cx="455.27" cy="316.90" r="3.25"/>
<circle cx="456.49" cy="316.91" r="3.25"/>
<circle cx="457.72" cy="316.91" r="3.25"/>
<circle cx="458.94" cy="316.91" r="3.25"/>
<circle cx="460.16" cy="316.91" r="3.25"/>
<circle cx="461.39" cy="316.91" r="3.25"/>
<circle cx="462.61" cy="316.92" r="3.25"/>
<circle cx="463.84" cy="316.92" r="3.25"/>
<circle cx="465.06" cy="316.92" r="3.25"/>
<circle cx="466.28" cy="316.92" r="3.25"/>
<circle cx="467.51" cy="316.92" r="3.25"/>
<circle cx="468.73" cy="316.93" r="3.25"/>
<circle cx="469.96" cy="316.93" r="3.25"/>
<circle cx="471.18" cy="316.93" r="3.25"/>
<circle cx="472.40" cy="316.93" r="3.25"/>
<circle cx="473.63" cy="316.93" r="3.25"/>
<circle cx="474.85" cy="316.94" r="3.25"/>
<circle cx="476.08" cy="316.94" r="3.25"/>
<circle cx="477.30" cy="316.94" r="3.25"/>
<circle cx="478.52" cy="316.94" r="3.25"/>
<circle cx="479.75" cy="316.94" r="3.25"/>
<circle cx="480.97" cy="316.94" r="3.25"/>
<circle cx="482.20" cy="316.95" r="3.25"/>
<circle cx="483.42" cy="316.95" r="3.25"/>
<circle cx="484.64" cy="316.95" r="3.25"/>
<circle cx="485.87" cy="316.95" r="3.25"/>
<circle cx="487.09" cy="316.95" r="3.25"/>
<circle cx="488.32" cy="316.95" r="3.25"/>
<circle cx="489.54" cy="316.96" r="3.25"/>
<circle cx="490.76" cy="316.96" r="3.25"/>
<circle cx="491.99" cy="316.96" r="3.25"/>
<circle cx="493.21" cy="316.96" r="3.25"/>
<circle cx="494.44" cy="316.96" r="3.25"/>
<circle cx="495.66" cy="316.97" r="3.25"/>
<circle cx="496.88" cy="316.97" r="3.25"/>
<circle cx="498.11" cy="316.97" r="3.25"/>
<circle cx="499.33" cy="316.97" r="3.25"/>
<circle cx="500.56" cy="316.97" r="3.25"/>
<circle cx="501.78" cy="316.97" r="3.25"/>
<circle cx="503.00" cy="316.97" r="3.25"/>
<circle cx="504.23" cy="316.98" r="3.25"/>
<circle cx="505.45" cy="316.98" r="3.25"/>
<circle cx="506.68" cy="316.98" r="3.25"/>
<circle cx="507.90" cy="316.98" r="3.25"/>
<circle cx="509.12" cy="316.98" r="3.25"/>
<circle cx="510.35" cy="316.98" r="3.25"/>
<circle cx="511.57" cy="316.99" r="3.25"/>
<circle cx="512.80" cy="316.99" r="3.25"/>
<circle cx="514.02" cy="316.99" r="3.25"/>
<circle cx="515.24" cy="316.99" r="3.25"/>
<circle cx="516.47" cy="316.99" r="3.25"/>
</g>
<g fill="#A5A5A5">
<circle cx="80.72" cy="61.00" r="3.25"/>
<circle cx="81.95" cy="212.82" r="3.25"/>
<circle cx="83.17" cy="255.53" r="3.25"/>
<circle cx="84.40" cy="274.78" r="3.25"/>
<circle cx="85.62" cy="285.49" r="3.25"/>
<circle cx="86.84" cy="292.21" r="3.25"/>
<circle cx="88.07" cy="296.78" r="3.25"/>
<circle cx="89.29" cy="300.07" r="3.25"/>
<circle cx="90.52" cy="302.53" r="3.25"/>
<circle cx="91.74" cy="304.44" r="3.25"/>
<circle cx="92.96" cy="305.95" r="3.25"/>
<circle cx="94.19" cy="307.18" r="3.25"/>
<circle cx="95.41" cy="308.19" r="3.25"/>
<circle cx="96.64" cy="309.04" r="3.25"/>
<circle cx="97.86" cy="309.77" r="3.25"/>
<circle cx="99.08" cy="310.39" r="3.25"/>
<circle cx="100.31" cy="310.92" r="3.25"/>
<circle cx="101.53" cy="311.39" r="3.25"/>
<circle cx="102.76" cy="311.80" r="3.25"/>
<circle cx="103.98" cy="312.17" r="3.25"/>
<circle cx="105.20" cy="312.49" r="3.25"/>
<circle cx="106.43" cy="312.79" r="3.25"/>
<circle cx="107.65" cy="313.05" r="3.25"/>
<circle cx="108.88" cy="313.29" r="3.25"/>
<circle cx="110.10" cy="313.50" r="3.25"/>
<circle cx="111.32" cy="313.70" r="3.25"/>
<circle cx="112.55" cy="313.88" r="3.25"/>
<circle cx="113.77" cy="314.05" r="3.25"/>
<circle cx="115.00" cy="314.20" r="3.25"/>
<circle cx="116.22" cy="314.34" r="3.25"/>
<circle cx="117.44" cy="314.47" r="3.25"/>
<circle cx="118.67" cy="314.60" r="3.25"/>
<circle cx="119.89" cy="314.71" r="3.25"/>
<circle cx="121.12" cy="314.82" r="3.25"/>
<circle cx="122.34" cy="314.91" r="3.25"/>
<circle cx="123.56" cy="315.01" r="3.25"/>
<circle cx="124.79" cy="315.09" r="3.25"/>
<circle cx="126.01" cy="315.17" r="3.25"/>
<circle cx="127.24" cy="315.25" r="3.25"/>
<circle cx="128.46" cy="315.32" r="3.25"/>
<circle cx="129.68" cy="315.39" r="3.25"/>
<circle cx="130.91" cy="315.46" r="3.25"/>
<circle cx="132.13" cy="315.52" r="3.25"/>
<circle cx="133.36" cy="315.58" r="3.25"/>
<circle cx="134.58" cy="315.63" r="3.25"/>
<circle cx="135.80" cy="315.68" r="3.25"/>
<circle cx="137.03" cy="315.73" r="3.25"/>
<circle cx="138.25" cy="315.78" r="3.25"/>
<circle cx="139.48" cy="315.83" r="3.25"/>
<circle cx="140.70" cy="315.87" r="3.25"/>
<circle cx="141.92" cy="315.91" r="3.25"/>
<circle cx="143.15" cy="315.95" r="3.25"/>
<circle cx="144.37" cy="315.99" r="3.25"/>
<circle cx="145.60" cy="316.02" r="3.25"/>
<circle cx="146.82" cy="316.06" r="3.25"/>
<circle cx="148.04" cy="316.09" r="3.25"/>
<circle cx="149.27" cy="316.12" r="3.25"/>
<circle cx="150.49" cy="316.15" r="3.25"/>
<circle cx="151.72" cy="316.18" r="3.25"/>
<circle cx="152.94" cy="316.21" r="3.25"/>
<circle cx="154.16" cy="316.24" r="3.25"/>
<circle cx="155.39" cy="316.27" r="3.25"/>
<circle cx="156.61" cy="316.29" r="3.25"/>
<circle cx="157.84" cy="316.32" r="3.25"/>
<circle cx="159.06" cy="316.34" r="3.25"/>
<circle cx="160.28" cy="316.36" r="3.25"/>
<circle cx="161.51" cy="316.38" r="3.25"/>
<circle cx="162.73" cy="316.40" r="3.25"/>
<circle cx="163.96" cy="316.42" r="3.25"/>
<circle cx="165.18" cy="316.44" r="3.25"/>
<circle cx="166.40" cy="316.46" r="3.25"/>
<circle cx="167.63" cy="316.48" r="3.25"/>
<circle cx="168.85" cy="316.50" r="3.25"/>
<circle cx="170.08" cy="316.52" r="3.25"/>
<circle cx="171.30" cy="316.53" r="3.25"/>
<circle cx="172.52" cy="316.55" r="3.25"/>
<circle cx="173.75" cy="316.57" r="3.25"/>
<circle cx="174.97" cy="316.58" r="3.25"/>
<circle cx="176.20" cy="316.60" r="3.25"/>
<circle cx="177.42" cy="316.61" r="3.25"/>
<circle cx="178.64" cy="316.63" r="3.25"/>
<circle cx="179.87" cy="316.64" r="3.25"/>
<circle cx="181.09" cy="316.65" r="3.25"/>
<circle cx="182.32" cy="316.67" r="3.25"/>
<circle cx="183.54" cy="316.68" r="3.25"/>
<circle cx="184.76" cy="316.69" r="3.25"/>
<circle cx="185.99" cy="316.70" r="3.25"/>
<circle cx="187.21" cy="316.71" r="3.25"/>
<circle cx="188.44" cy="316.73" r="3.25"/>
<circle cx="189.66" cy="316.74" r="3.25"/>
<circle cx="190.88" cy="316.75" r="3.25"/>
<circle cx="192.11" cy="316.76" r="3.25"/>
<circle cx="193.33" cy="316.77" r="3.25"/>
<circle cx="194.56" cy="316.78" r="3.25"/>
<circle cx="195.78" cy="316.79" r="3.25"/>
<circle cx="197.00" cy="316.80" r="3.25"/>
<circle cx="198.23" cy="316.81" r="3.25"/>
<circle cx="199.45" cy="316.82" r="3.25"/>
<circle cx="200.68" cy="316.83" r="3.25"/>
<circle cx="201.90" cy="316.83" r="3.25"/>
<circle cx="203.12" cy="316.84" r="3.25"/>
<circle cx="204.35" cy="316.85" r="3.25"/>
<circle cx="205.57" cy="316.86" r="3.25"/>
<circle cx="206.80" cy="316.87" r="3.25"/>
<circle cx="208.02" cy="316.88" r="3.25"/>
<circle cx="209.24" cy="316.88" r="3.25"/>
<circle cx="210.47" cy="316.89" r="3.25"/>
<circle cx="211.69" cy="316.90" r="3.25"/>
<circle cx="212.92" cy="316.90" r="3.25"/>
<circle cx="214.14" cy="316.91" r="3.25"/>
<circle cx="215.36" cy="316.92" r="3.25"/>
<circle cx="216.59" cy="316.93" r="3.25"/>
<circle cx="217.81" cy="316.93" r="3.25"/>
<circle cx="219.04" cy="316.94" r="3.25"/>
<circle cx="220.26" cy="316.94" r="3.25"/>
<circle cx="221.48" cy="316.95" r="3.25"/>
<circle cx="222.71" cy="316.96" r="3.25"/>
<circle cx="223.93" cy="316.96" r="3.25"/>
<circle cx="225.16" cy="316.97" r="3.25"/>
<circle cx="226.38" cy="316.97" r="3.25"/>
<circle cx="227.60" cy="316.98" r="3.25"/>
<circle cx="228.83" cy="316.99" r="3.25"/>
<circle cx="230.05" cy="316.99" r="3.25"/>
<circle cx="231.28" cy="317.00" r="3.25"/>
<circle cx="232.50" cy="317.00" r="3.25"/>
<circle cx="233.72" cy="317.01" r="3.25"/>
<circle cx="234.95" cy="317.01" r="3.25"/>
<circle cx="236.17" cy="317.02" r="3.25"/>
<circle cx="237.40" cy="317.02" r="3.25"/>
<circle cx="238.62" cy="317.03" r="3.25"/>
<circle cx="239.84" cy="317.03" r="3.25"/>
<circle cx="241.07" cy="317.04" r="3.25"/>
<circle cx="242.29" cy="317.04" r="3.25"/>
<circle cx="243.52" cy="317.04" r="3.25"/>
<circle cx="244.74" cy="317.05" r="3.25"/>
<circle cx="245.96" cy="317.05" r="3.25"/>
<circle cx="247.19" cy="317.06" r="3.25"/>
<circle cx="248.41" cy="317.06" r="3.25"/>
<circle cx="249.64" cy="317.07" r="3.25"/>
<circle cx="250.86" cy="317.07" r="3.25"/>
<circle cx="252.08" cy="317.07" r="3.25"/>
<circle cx="253.31" cy="317.08" r="3.25"/>
<circle cx="254.53" cy="317.08" r="3.25"/>
<circle cx="255.76" cy="317.08" r="3.25"/>
<circle cx="256.98" cy="317.09" r="3.25"/>
<circle cx="258.20" cy="317.09" r="3.25"/>
<circle cx="259.43" cy="317.10" r="3.25"/>
<circle cx="260.65" cy="317.10" r="3.25"/>
<circle cx="261.88" cy="317.10" r="3.25"/>
<circle cx="263.10" cy="317.11" r="3.25"/>
<circle cx="264.32" cy="317.11" r="3.25"/>
<circle cx="265.55" cy="317.11" r="3.25"/>
<circle cx="266.77" cy="317.12" r="3.25"/>
<circle cx="268.00" cy="317.12" r="3.25"/>
<circle cx="269.22" cy="317.12" r="3.25"/>
<circle cx="270.44" cy="317.13" r="3.25"/>
<circle cx="271.67" cy="317.13" r="3.25"/>
<circle cx="272.89" cy="317.13" r="3.25"/>
<circle cx="274.12" cy="317.13" r="3.25"/>
<circle cx="275.34" cy="317.14" r="3.25"/>
<circle cx="276.56" cy="317.14" r="3.25"/>
<circle cx="277.79" cy="317.14" r="3.25"/>
<circle cx="279.01" cy="317.15" r="3.25"/>
<circle cx="280.24" cy="317.15" r="3.25"/>
<circle cx="281.46" cy="317.15" r="3.25"/>
<circle cx="282.68" cy="317.15" r="3.25"/>
<circle cx="283.91" cy="317.16" r="3.25"/>
<circle cx="285.13" cy="317.16" r="3.25"/>
<circle cx="286.36" cy="317.16" r="3.25"/>
<circle cx="287.58" cy="317.16" r="3.25"/>
<circle cx="288.80" cy="317.17" r="3.25"/>
<circle cx="290.03" cy="317.17" r="3.25"/>
<circle cx="291.25" cy="317.17" r="3.25"/>
<circle cx="292.48" cy="317.17" r="3.25"/>
<circle cx="293.70" cy="317.18" r="3.25"/>
<circle cx="294.92" cy="317.18" r="3.25"/>
<circle cx="296.15" cy="317.18" r="3.25"/>
<circle cx="297.37" cy="317.18" r="3.25"/>
<circle cx="298.60" cy="317.19" r="3.25"/>
<circle cx="299.82" cy="317.19" r="3.25"/>
<circle cx="301.04" cy="317.19" r="3.25"/>
<circle cx="302.27" cy="317.19" r="3.25"/>
<circle cx="303.49" cy="317.20" r="3.25"/>
<circle cx="304.72" cy="317.20" r="3.25"/>
<circle cx="305.94" cy="317.20" r="3.25"/>
<circle cx="307.16" cy="317.20" r="3.25"/>
<circle cx="308.39" cy="317.20" r="3.25"/>
<circle cx="309.61" cy="317.21" r="3.25"/>
<circle cx="310.84" cy="317.21" r="3.25"/>
<circle cx="312.06" cy="317.21" r="3.25"/>
<circle cx="313.28" cy="317.21" r="3.25"/>
<circle cx="314.51" cy="317.21" r="3.25"/>
<circle cx="315.73" cy="317.22" r="3.25"/>
<circle cx="316.96" cy="317.22" r="3.25"/>
<circle cx="318.18" cy="317.22" r="3.25"/>
<circle cx="319.40" cy="317.22" r="3.25"/>
<circle cx="320.63" cy="317.22" r="3.25"/>
<circle cx="321.85" cy="317.22" r="3.25"/>
<circle cx="323.08" cy="317.23" r="3.25"/>
<circle cx="324.30" cy="317.23" r="3.25"/>
<circle cx="325.52" cy="317.23" r="3.25"/>
<circle cx="326.75" cy="317.23" r="3.25"/>
<circle cx="327.97" cy="317.23" r="3.25"/>
<circle cx="329.20" cy="317.24" r="3.25"/>
<circle cx="330.42" cy="317.24" r="3.25"/>
<circle cx="331.64" cy="317.24" r="3.25"/>
<circle cx="332.87" cy="317.24" r="3.25"/>
<circle cx="334.09" cy="317.24" r="3.25"/>
<circle cx="335.32" cy="317.24" r="3.25"/>
<circle cx="336.54" cy="317.25" r="3.25"/>
<circle cx="337.76" cy="317.25" r="3.25"/>
<circle cx="338.99" cy="317.25" r="3.25"/>
<circle cx="340.21" cy="317.25" r="3.25"/>
<circle cx="341.44" cy="317.25" r="3.25"/>
<circle cx="342.66" cy="317.25" r="3.25"/>
<circle cx="343.88" cy="317.25" r="3.25"/>
<circle cx="345.11" cy="317.26" r="3.25"/>
<circle cx="346.33" cy="317.26" r="3.25"/>
<circle cx="347.56" cy="317.26" r="3.25"/>
<circle cx="348.78" cy="317.26" r="3.25"/>
<circle cx="350.00" cy="317.26" r="3.25"/>
<circle cx="351.23" cy="317.26" r="3.25"/>
<circle cx="352.45" cy="317.26" r="3.25"/>
<circle cx="353.68" cy="317.27" r="3.25"/>
<circle cx="354.90" cy="317.27" r="3.25"/>
<circle cx="356.12" cy="317.27" r="3.25"/>
<circle cx="357.35" cy="317.27" r="3.25"/>
<circle cx="358.57" cy="317.27" r="3.25"/>
<circle cx="359.80" cy="317.27" r="3.25"/>
<circle cx="361.02" cy="317.27" r="3.25"/>
<circle cx="362.24" cy="317.27" r="3.25"/>
<circle cx="363.47" cy="317.28" r="3.25"/>
<circle cx="364.69" cy="317.28" r="3.25"/>
<circle cx="365.92" cy="317.28" r="3.25"/>
<circle cx="367.14" cy="317.28" r="3.25"/>
<circle cx="368.36" cy="317.28" r="3.25"/>
<circle cx="369.59" cy="317.28" r="3.25"/>
<circle cx="370.81" cy="317.28" r="3.25"/>
<circle cx="372.04" cy="317.28" r="3.25"/>
<circle cx="373.26" cy="317.29" r="3.25"/>
<circle cx="374.48" cy="317.29" r="3.25"/>
<circle cx="375.71" cy="317.29" r="3.25"/>
<circle cx="376.93" cy="317.29" r="3.25"/>
<circle cx="378.16" cy="317.29" r="3.25"/>
<circle cx="379.38" cy="317.29" r="3.25"/>
<circle cx="380.60" cy="317.29" r="3.25"/>
<circle cx="381.83" cy="317.29" r="3.25"/>
<circle cx="383.05" cy="317.29" r="3.25"/>
<circle cx="384.28" cy="317.30" r="3.25"/>
<circle cx="385.50" cy="317.30" r="3.25"/>
<circle cx="386.72" cy="317.30" r="3.25"/>
<circle cx="387.95" cy="317.30" r="3.25"/>
<circle cx="389.17" cy="317.30" r="3.25"/>
<circle cx="390.40" cy="317.30" r="3.25"/>
<circle cx="391.62" cy="317.30" r="3.25"/>
<circle cx="392.84" cy="317.30" r="3.25"/>
<circle cx="394.07" cy="317.30" r="3.25"/>
<circle cx="395.29" cy="317.30" r="3.25"/>
<circle cx="396.52" cy="317.31" r="3.25"/>
<circle cx="397.74" cy="317.31" r="3.25"/>
<circle cx="398.96" cy="317.31" r="3.25"/>
<circle cx="400.19" cy="317.31" r="3.25"/>
<circle cx="401.41" cy="317.31" r="3.25"/>
<circle cx="402.64" cy="317.31" r="3.25"/>
<circle cx="403.86" cy="317.31" r="3.25"/>
<circle cx="405.08" cy="317.31" r="3.25"/>
<circle cx="406.31" cy="317.31" r="3.25"/>
<circle cx="407.53" cy="317.31" r="3.25"/>
<circle cx="408.76" cy="317.31" r="3.25"/>
<circle cx="409.98" cy="317.32" r="3.25"/>
<circle cx="411.20" cy="317.32" r="3.25"/>
<circle cx="412.43" cy="317.32" r="3.25"/>
<circle cx="413.65" cy="317.32" r="3.25"/>
<circle cx="414.88" cy="317.32" r="3.25"/>
<circle cx="416.10" cy="317.32" r="3.25"/>
<circle cx="417.32" cy="317.32" r="3.25"/>
<circle cx="418.55" cy="317.32" r="3.25"/>
<circle cx="419.77" cy="317.32" r="3.25"/>
<circle cx="421.00" cy="317.32" r="3.25"/>
<circle cx="422.22" cy="317.32" r="3.25"/>
<circle cx="423.44" cy="317.33" r="3.25"/>
<circle cx="424.67" cy="317.33" r="3.25"/>
<circle cx="425.89" cy="317.33" r="3.25"/>
<circle cx="427.12" cy="317.33" r="3.25"/>
<circle cx="428.34" cy="317.33" r="3.25"/>
<circle cx="429.56" cy="317.33" r="3.25"/>
<circle cx="430.79" cy="317.33" r="3.25"/>
<circle cx="432.01" cy="317.33" r="3.25"/>
<circle cx="433.24" cy="317.33" r="3.25"/>
<circle cx="434.46" cy="317.33" r="3.25"/>
<circle cx="435.68" cy="317.33" r="3.25"/>
<circle cx="436.91" cy="317.33" r="3.25"/>
<circle cx="438.13" cy="317.33" r="3.25"/>
<circle cx="439.36" cy="317.33" r="3.25"/>
<circle cx="440.58" cy="317.34" r="3.25"/>
<circle cx="441.80" cy="317.34" r="3.25"/>
<circle cx="443.03" cy="317.34" r="3.25"/>
<circle cx="444.25" cy="317.34" r="3.25"/>
<circle cx="445.48" cy="317.34" r="3.25"/>
<circle cx="446.70" cy="317.34" r="3.25"/>
<circle cx="447.92" cy="317.34" r="3.25"/>
<circle cx="449.15" cy="317.34" r="3.25"/>
<circle cx="450.37" cy="317.34" r="3.25"/>
<circle cx="451.60" cy="317.34" r="3.25"/>
<circle cx="452.82" cy="317.34" r="3.25"/>
<circle cx="454.04" cy="317.34" r="3.25"/>
<circle cx="455.27" cy="317.34" r="3.25"/>
<circle cx="456.49" cy="317.34" r="3.25"/>
<circle cx="457.72" cy="317.35" r="3.25"/>
<circle cx="458.94" cy="317.35" r="3.25"/>
<circle cx="460.16" cy="317.35" r="3.25"/>
<circle cx="461.39" cy="317.35" r="3.25"/>
<circle cx="462.61" cy="317.35" r="3.25"/>
<circle cx="463.84" cy="317.35" r="3.25"/>
<circle cx="465.06" cy="317.35" r="3.25"/>
<circle cx="466.28" cy="317.35" r="3.25"/>
<circle cx="467.51" cy="317.35" r="3.25"/>
<circle cx="468.73" cy="317.35" r="3.25"/>
<circle cx="469.96" cy="317.35" r="3.25"/>
<circle cx="471.18" cy="317.35" r="3.25"/>
<circle cx="472.40" cy="317.35" r="3.25"/>
<circle cx="473.63" cy="317.35" r="3.25"/>
<circle cx="474.85" cy="317.35" r="3.25"/>
<circle cx="476.08" cy="317.35" r="3.25"/>
<circle cx="477.30" cy="317.36" r="3.25"/>
<circle cx="478.52" cy="317.36" r="3.25"/>
<circle cx="479.75" cy="317.36" r="3.25"/>
<circle cx="480.97" cy="317.36" r="3.25"/>
<circle cx="482.20" cy="317.36" r="3.25"/>
<circle cx="483.42" cy="317.36" r="3.25"/>
<circle cx="484.64" cy="317.36" r="3.25"/>
<circle cx="485.87" cy="317.36" r="3.25"/>
<circle cx="487.09" cy="317.36" r="3.25"/>
<circle cx="488.32" cy="317.36" r="3.25"/>
<circle cx="489.54" cy="317.36" r="3.25"/>
<circle cx="490.76" cy="317.36" r="3.25"/>
<circle cx="491.99" cy="317.36" r="3.25"/>
<circle cx="493.21" cy="317.36" r="3.25"/>
<circle cx="494.44" cy="317.36" r="3.25"/>
<circle cx="495.66" cy="317.36" r="3.25"/>
<circle cx="496.88" cy="317.36" r="3.25"/>
<circle cx="498.11" cy="317.36" r="3.25"/>
<circle cx="499.33" cy="317.36" r="3.25"/>
<circle cx="500.56" cy="317.37" r="3.25"/>
<circle cx="501.78" cy="317.37" r="3.25"/>
<circle cx="503.00" cy="317.37" r="3.25"/>
<circle cx="504.23" cy="317.37" r="3.25"/>
<circle cx="505.45" cy="317.37" r="3.25"/>
<circle cx="506.68" cy="317.37" r="3.25"/>
<circle cx="507.90" cy="317.37" r="3.25"/>
<circle cx="509.12" cy="317.37" r="3.25"/>
<circle cx="510.35" cy="317.37" r="3.25"/>
<circle cx="511.57" cy="317.37" r="3.25"/>
<circle cx="512.80" cy="317.37" r="3.25"/>
<circle cx="514.02" cy="317.37" r="3.25"/>
<circle cx="515.24" cy="317.37" r="3.25"/>
<circle cx="516.47" cy="317.37" r="3.25"/>
</g>
<g fill="#FFC000">
<circle cx="80.72" cy="61.00" r="3.25"/>
<circle cx="81.95" cy="145.67" r="3.25"/>
<circle cx="83.17" cy="181.57" r="3.25"/>
<circle cx="84.40" cy="202.39" r="3.25"/>
<circle cx="85.62" cy="216.32" r="3.25"/>
<circle cx="86.84" cy="226.44" r="3.25"/>
<circle cx="88.07" cy="234.20" r="3.25"/>
<circle cx="89.29" cy="240.39" r="3.25"/>
<circle cx="90.52" cy="245.47" r="3.25"/>
<circle cx="91.74" cy="249.72" r="3.25"/>
<circle cx="92.96" cy="253.36" r="3.25"/>
<circle cx="94.19" cy="256.50" r="3.25"/>
<circle cx="95.41" cy="259.26" r="3.25"/>
<circle cx="96.64" cy="261.70" r="3.25"/>
<circle cx="97.86" cy="263.88" r="3.25"/>
<circle cx="99.08" cy="265.85" r="3.25"/>
<circle cx="100.31" cy="267.62" r="3.25"/>
<circle cx="101.53" cy="269.25" r="3.25"/>
<circle cx="102.76" cy="270.73" r="3.25"/>
<circle cx="103.98" cy="272.10" r="3.25"/>
<circle cx="105.20" cy="273.36" r="3.25"/>
<circle cx="106.43" cy="274.53" r="3.25"/>
<circle cx="107.65" cy="275.62" r="3.25"/>
<circle cx="108.88" cy="276.64" r="3.25"/>
<circle cx="110.10" cy="277.59" r="3.25"/>
<circle cx="111.32" cy="278.48" r="3.25"/>
<circle cx="112.55" cy="279.33" r="3.25"/>
<circle cx="113.77" cy="280.12" r="3.25"/>
<circle cx="115.00" cy="280.87" r="3.25"/>
<circle cx="116.22" cy="281.58" r="3.25"/>
<circle cx="117.44" cy="282.26" r="3.25"/>
<circle cx="118.67" cy="282.90" r="3.25"/>
<circle cx="119.89" cy="283.51" r="3.25"/>
<circle cx="121.12" cy="284.09" r="3.25"/>
<circle cx="122.34" cy="284.64" r="3.25"/>
<circle cx="123.56" cy="285.17" r="3.25"/>
<circle cx="124.79" cy="285.68" r="3.25"/>
<circle cx="126.01" cy="286.17" r="3.25"/>
<circle cx="127.24" cy="286.64" r="3.25"/>
<circle cx="128.46" cy="287.08" r="3.25"/>
<circle cx="129.68" cy="287.52" r="3.25"/>
<circle cx="130.91" cy="287.93" r="3.25"/>
<circle cx="132.13" cy="288.33" r="3.25"/>
<circle cx="133.36" cy="288.71" r="3.25"/>
<circle cx="134.58" cy="289.09" r="3.25"/>
<circle cx="135.80" cy="289.44" r="3.25"/>
<circle cx="137.03" cy="289.79" r="3.25"/>
<circle cx="138.25" cy="290.13" r="3.25"/>
<circle cx="139.48" cy="290.45" r="3.25"/>
<circle cx="140.70" cy="290.76" r="3.25"/>
<circle cx="141.92" cy="291.07" r="3.25"/>
<circle cx="143.15" cy="291.36" r="3.25"/>
<circle cx="144.37" cy="291.65" r="3.25"/>
<circle cx="145.60" cy="291.93" r="3.25"/>
<circle cx="146.82" cy="292.20" r="3.25"/>
<circle cx="148.04" cy="292.46" r="3.25"/>
<circle cx="149.27" cy="292.71" r="3.25"/>
<circle cx="150.49" cy="292.96" r="3.25"/>
<circle cx="151.72" cy="293.20" r="3.25"/>
<circle cx="152.94" cy="293.44" r="3.25"/>
<circle cx="154.16" cy="293.67" r="3.25"/>
<circle cx="155.39" cy="293.89" r="3.25"/>
<circle cx="156.61" cy="294.11" r="3.25"/>
<circle cx="157.84" cy="294.32" r="3.25"/>
<circle cx="159.06" cy="294.53" r="3.25"/>
<circle cx="160.28" cy="294.73" r="3.25"/>
<circle cx="161.51" cy="294.93" r="3.25"/>
<circle cx="162.73" cy="295.12" r="3.25"/>
<circle cx="163.96" cy="295.31" r="3.25"/>
<circle cx="165.18" cy="295.49" r="3.25"/>
<circle cx="166.40" cy="295.67" r="3.25"/>
<circle cx="167.63" cy="295.85" r="3.25"/>
<circle cx="168.85" cy="296.02" r="3.25"/>
<circle cx="170.08" cy="296.19" r="3.25"/>
<circle cx="171.30" cy="296.35" r="3.25"/>
<circle cx="172.52" cy="296.51" r="3.25"/>
<circle cx="173.75" cy="296.67" r="3.25"/>
<circle cx="174.97" cy="296.82" r="3.25"/>
<circle cx="176.20" cy="296.98" r="3.25"/>
<circle cx="177.42" cy="297.12" r="3.25"/>
<circle cx="178.64" cy="297.27" r="3.25"/>
<circle cx="179.87" cy="297.41" r="3.25"/>
<circle cx="181.09" cy="297.55" r="3.25"/>
<circle cx="182.32" cy="297.69" r="3.25"/>
<circle cx="183.54" cy="297.83" r="3.25"/>
<circle cx="184.76" cy="297.96" r="3.25"/>
<circle cx="185.99" cy="298.09" r="3.25"/>
<circle cx="187.21" cy="298.22" r="3.25"/>
<circle cx="188.44" cy="298.34" r="3.25"/>
<circle cx="189.66" cy="298.47" r="3.25"/>
<circle cx="190.88" cy="298.59" r="3.25"/>
<circle cx="192.11" cy="298.71" r="3.25"/>
<circle cx="193.33" cy="298.82" r="3.25"/>
<circle cx="194.56" cy="298.94" r="3.25"/>
<circle cx="195.78" cy="299.05" r="3.25"/>
<circle cx="197.00" cy="299.16" r="3.25"/>
<circle cx="198.23" cy="299.27" r="3.25"/>
<circle cx="199.45" cy="299.38" r="3.25"/>
<circle cx="200.68" cy="299.49" r="3.25"/>
<circle cx="201.90" cy="299.59" r="3.25"/>
<circle cx="203.12" cy="299.69" r="3.25"/>
<circle cx="204.35" cy="299.79" r="3.25"/>
<circle cx="205.57" cy="299.89" r="3.25"/>
<circle cx="206.80" cy="299.99" r="3.25"/>
<circle cx="208.02" cy="300.09" r="3.25"/>
<circle cx="209.24" cy="300.18" r="3.25"/>
<circle cx="210.47" cy="300.28" r="3.25"/>
<circle cx="211.69" cy="300.37" r="3.25"/>
<circle cx="212.92" cy="300.46" r="3.25"/>
<circle cx="214.14" cy="300.55" r="3.25"/>
<circle cx="215.36" cy="300.64" r="3.25"/>
<circle cx="216.59" cy="300.73" r="3.25"/>
<circle cx="217.81" cy="300.81" r="3.25"/>
<circle cx="219.04" cy="300.90" r="3.25"/>
<circle cx="220.26" cy="300.98" r="3.25"/>
<circle cx="221.48" cy="301.06" r="3.25"/>
<circle cx="222.71" cy="301.14" r="3.25"/>
<circle cx="223.93" cy="301.22" r="3.25"/>
<circle cx="225.16" cy="301.30" r="3.25"/>
<circle cx="226.38" cy="301.38" r="3.25"/>
<circle cx="227.60" cy="301.46" r="3.25"/>
<circle cx="228.83" cy="301.53" r="3.25"/>
<circle cx="230.05" cy="301.61" r="3.25"/>
<circle cx="231.28" cy="301.68" r="3.25"/>
<circle cx="232.50" cy="301.76" r="3.25"/>
<circle cx="233.72" cy="301.83" r="3.25"/>
<circle cx="234.95" cy="301.90" r="3.25"/>
<circle cx="236.17" cy="301.97" r="3.25"/>
<circle cx="237.40" cy="302.04" r="3.25"/>
<circle cx="238.62" cy="302.11" r="3.25"/>
<circle cx="239.84" cy="302.18" r="3.25"/>
<circle cx="241.07" cy="302.25" r="3.25"/>
<circle cx="242.29" cy="302.31" r="3.25"/>
<circle cx="243.52" cy="302.38" r="3.25"/>
<circle cx="244.74" cy="302.44" r="3.25"/>
<circle cx="245.96" cy="302.51" r="3.25"/>
<circle cx="247.19" cy="302.57" r="3.25"/>
<circle cx="248.41" cy="302.63" r="3.25"/>
<circle cx="249.64" cy="302.69" r="3.25"/>
<circle cx="250.86" cy="302.76" r="3.25"/>
<circle cx="252.08" cy="302.82" r="3.25"/>
<circle cx="253.31" cy="302.88" r="3.25"/>
<circle cx="254.53" cy="302.94" r="3.25"/>
<circle cx="255.76" cy="302.99" r="3.25"/>
<circle cx="256.98" cy="303.05" r="3.25"/>
<circle cx="258.20" cy="303.11" r="3.25"/>
<circle cx="259.43" cy="303.17" r="3.25"/>
<circle cx="260.65" cy="303.22" r="3.25"/>
<circle cx="261.88" cy="303.28" r="3.25"/>
<circle cx="263.10" cy="303.33" r="3.25"/>
<circle cx="264.32" cy="303.39" r="3.25"/>
<circle cx="265.55" cy="303.44" r="3.25"/>
<circle cx="266.77" cy="303.49" r="3.25"/>
<circle cx="268.00" cy="303.55" r="3.25"/>
<circle cx="269.22" cy="303.60" r="3.25"/>
<circle cx="270.44" cy="303.65" r="3.25"/>
<circle cx="271.67" cy="303.70" r="3.25"/>
<circle cx="272.89" cy="303.75" r="3.25"/>
<circle cx="274.12" cy="303.80" r="3.25"/>
<circle cx="275.34" cy="303.85" r="3.25"/>
<circle cx="276.56" cy="303.90" r="3.25"/>
<circle cx="277.79" cy="303.95" r="3.25"/>
<circle cx="279.01" cy="304.00" r="3.25"/>
<circle cx="280.24" cy="304.04" r="3.25"/>
<circle cx="281.46" cy="304.09" r="3.25"/>
<circle cx="282.68" cy="304.14" r="3.25"/>
<circle cx="283.91" cy="304.18" r="3.25"/>
<circle cx="285.13" cy="304.23" r="3.25"/>
<circle cx="286.36" cy="304.28" r="3.25"/>
<circle cx="287.58" cy="304.32" r="3.25"/>
<circle cx="288.80" cy="304.37" r="3.25"/>
<circle cx="290.03" cy="304.41" r="3.25"/>
<circle cx="291.25" cy="304.45" r="3.25"/>
<circle cx="292.48" cy="304.50" r="3.25"/>
<circle cx="293.70" cy="304.54" r="3.25"/>
<circle cx="294.92" cy="304.58" r="3.25"/>
<circle cx="296.15" cy="304.62" r="3.25"/>
<circle cx="297.37" cy="304.67" r="3.25"/>
<circle cx="298.60" cy="304.71" r="3.25"/>
<circle cx="299.82" cy="304.75" r="3.25"/>
<circle cx="301.04" cy="304.79" r="3.25"/>
<circle cx="302.27" cy="304.83" r="3.25"/>
<circle cx="303.49" cy="304.87" r="3.25"/>
<circle cx="304.72" cy="304.91" r="3.25"/>
<circle cx="305.94" cy="304.95" r="3.25"/>
<circle cx="307.16" cy="304.99" r="3.25"/>
<circle cx="308.39" cy="305.03" r="3.25"/>
<circle cx="309.61" cy="305.07" r="3.25"/>
<circle cx="310.84" cy="305.10" r="3.25"/>
<circle cx="312.06" cy="305.14" r="3.25"/>
<circle cx="313.28" cy="305.18" r="3.25"/>
<circle cx="314.51" cy="305.22" r="3.25"/>
<circle cx="315.73" cy="305.25" r="3.25"/>
<circle cx="316.96" cy="305.29" r="3.25"/>
<circle cx="318.18" cy="305.33" r="3.25"/>
<circle cx="319.40" cy="305.36" r="3.25"/>
<circle cx="320.63" cy="305.40" r="3.25"/>
<circle cx="321.85" cy="305.43" r="3.25"/>
<circle cx="323.08" cy="305.47" r="3.25"/>
<circle cx="324.30" cy="305.50" r="3.25"/>
<circle cx="325.52" cy="305.54" r="3.25"/>
<circle cx="326.75" cy="305.57" r="3.25"/>
<circle cx="327.97" cy="305.61" r="3.25"/>
<circle cx="329.20" cy="305.64" r="3.25"/>
<circle cx="330.42" cy="305.67" r="3.25"/>
<circle cx="331.64" cy="305.71" r="3.25"/>
<circle cx="332.87" cy="305.74" r="3.25"/>
<circle cx="334.09" cy="305.77" r="3.25"/>
<circle cx="335.32" cy="305.80" r="3.25"/>
<circle cx="336.54" cy="305.84" r="3.25"/>
<circle cx="337.76" cy="305.87" r="3.25"/>
<circle cx="338.99" cy="305.90" r="3.25"/>
<circle cx="340.21" cy="305.93" r="3.25"/>
<circle cx="341.44" cy="305.96" r="3.25"/>
<circle cx="342.66" cy="305.99" r="3.25"/>
<circle cx="343.88" cy="306.02" r="3.25"/>
<circle cx="345.11" cy="306.06" r="3.25"/>
<circle cx="346.33" cy="306.09" r="3.25"/>
<circle cx="347.56" cy="306.12" r="3.25"/>
<circle cx="348.78" cy="306.15" r="3.25"/>
<circle cx="350.00" cy="306.18" r="3.25"/>
<circle cx="351.23" cy="306.20" r="3.25"/>
<circle cx="352.45" cy="306.23" r="3.25"/>
<circle cx="353.68" cy="306.26" r="3.25"/>
<circle cx="354.90" cy="306.29" r="3.25"/>
<circle cx="356.12" cy="306.32" r="3.25"/>
<circle cx="357.35" cy="306.35" r="3.25"/>
<circle cx="358.57" cy="306.38" r="3.25"/>
<circle cx="359.80" cy="306.41" r="3.25"/>
<circle cx="361.02" cy="306.43" r="3.25"/>
<circle cx="362.24" cy="306.46" r="3.25"/>
<circle cx="363.47" cy="306.49" r="3.25"/>
<circle cx="364.69" cy="306.52" r="3.25"/>
<circle cx="365.92" cy="306.54" r="3.25"/>
<circle cx="367.14" cy="306.57" r="3.25"/>
<circle cx="368.36" cy="306.60" r="3.25"/>
<circle cx="369.59" cy="306.62" r="3.25"/>
<circle cx="370.81" cy="306.65" r="3.25"/>
<circle cx="372.04" cy="306.68" r="3.25"/>
<circle cx="373.26" cy="306.70" r="3.25"/>
<circle cx="374.48" cy="306.73" r="3.25"/>
<circle cx="375.71" cy="306.75" r="3.25"/>
<circle cx="376.93" cy="306.78" r="3.25"/>
<circle cx="378.16" cy="306.81" r="3.25"/>
<circle cx="379.38" cy="306.83" r="3.25"/>
<circle cx="380.60" cy="306.86" r="3.25"/>
<circle cx="381.83" cy="306.88" r="3.25"/>
<circle cx="383.05" cy="306.91" r="3.25"/>
<circle cx="384.28" cy="306.93" r="3.25"/>
<circle cx="385.50" cy="306.95" r="3.25"/>
<circle cx="386.72" cy="306.98" r="3.25"/>
<circle cx="387.95" cy="307.00" r="3.25"/>
<circle cx="389.17" cy="307.03" r="3.25"/>
<circle cx="390.40" cy="307.05" r="3.25"/>
<circle cx="391.62" cy="307.07" r="3.25"/>
<circle cx="392.84" cy="307.10" r="3.25"/>
<circle cx="394.07" cy="307.12" r="3.25"/>
<circle cx="395.29" cy="307.14" r="3.25"/>
<circle cx="396.52" cy="307.17" r="3.25"/>
<circle cx="397.74" cy="307.19" r="3.25"/>
<circle cx="398.96" cy="307.21" r="3.25"/>
<circle cx="400.19" cy="307.24" r="3.25"/>
<circle cx="401.41" cy="307.26" r="3.25"/>
<circle cx="402.64" cy="307.28" r="3.25"/>
<circle cx="403.86" cy="307.30" r="3.25"/>
<circle cx="405.08" cy="307.33" r="3.25"/>
<circle cx="406.31" cy="307.35" r="3.25"/>
<circle cx="407.53" cy="307.37" r="3.25"/>
<circle cx="408.76" cy="307.39" r="3.25"/>
<circle cx="409.98" cy="307.41" r="3.25"/>
<circle cx="411.20" cy="307.43" r="3.25"/>
<circle cx="412.43" cy="307.46" r="3.25"/>
<circle cx="413.65" cy="307.48" r="3.25"/>
<circle cx="414.88" cy="307.50" r="3.25"/>
<circle cx="416.10" cy="307.52" r="3.25"/>
<circle cx="417.32" cy="307.54" r="3.25"/>
<circle cx="418.55" cy="307.56" r="3.25"/>
<circle cx="419.77" cy="307.58" r="3.25"/>
<circle cx="421.00" cy="307.60" r="3.25"/>
<circle cx="422.22" cy="307.62" r="3.25"/>
<circle cx="423.44" cy="307.64" r="3.25"/>
<circle cx="424.67" cy="307.66" r="3.25"/>
<circle cx="425.89" cy="307.68" r="3.25"/>
<circle cx="427.12" cy="307.70" r="3.25"/>
<circle cx="428.34" cy="307.72" r="3.25"/>
<circle cx="429.56" cy="307.74" r="3.25"/>
<circle cx="430.79" cy="307.76" r="3.25"/>
<circle cx="432.01" cy="307.78" r="3.25"/>
<circle cx="433.24" cy="307.80" r="3.25"/>
<circle cx="434.46" cy="307.82" r="3.25"/>
<circle cx="435.68" cy="307.84" r="3.25"/>
<circle cx="436.91" cy="307.86" r="3.25"/>
<circle cx="438.13" cy="307.88" r="3.25"/>
<circle cx="439.36" cy="307.90" r="3.25"/>
<circle cx="440.58" cy="307.92" r="3.25"/>
<circle cx="441.80" cy="307.94" r="3.25"/>
<circle cx="443.03" cy="307.95" r="3.25"/>
<circle cx="444.25" cy="307.97" r="3.25"/>
<circle cx="445.48" cy="307.99" r="3.25"/>
<circle cx="446.70" cy="308.01" r="3.25"/>
<circle cx="447.92" cy="308.03" r="3.25"/>
<circle cx="449.15" cy="308.05" r="3.25"/>
<circle cx="450.37" cy="308.06" r="3.25"/>
<circle cx="451.60" cy="308.08" r="3.25"/>
<circle cx="452.82" cy="308.10" r="3.25"/>
<circle cx="454.04" cy="308.12" r="3.25"/>
<circle cx="455.27" cy="308.13" r="3.25"/>
<circle cx="456.49" cy="308.15" r="3.25"/>
<circle cx="457.72" cy="308.17" r="3.25"/>
<circle cx="458.94" cy="308.19" r="3.25"/>
<circle cx="460.16" cy="308.20" r="3.25"/>
<circle cx="461.39" cy="308.22" r="3.25"/>
<circle cx="462.61" cy="308.24" r="3.25"/>
<circle cx="463.84" cy="308.26" r="3.25"/>
<circle cx="465.06" cy="308.27" r="3.25"/>
<circle cx="466.28" cy="308.29" r="3.25"/>
<circle cx="467.51" cy="308.31" r="3.25"/>
<circle cx="468.73" cy="308.32" r="3.25"/>
<circle cx="469.96" cy="308.34" r="3.25"/>
<circle cx="471.18" cy="308.36" r="3.25"/>
<circle cx="472.40" cy="308.37" r="3.25"/>
<circle cx="473.63" cy="308.39" r="3.25"/>
<circle cx="474.85" cy="308.41" r="3.25"/>
<circle cx="476.08" cy="308.42" r="3.25"/>
<circle cx="477.30" cy="308.44" r="3.25"/>
<circle cx="478.52" cy="308.45" r="3.25"/>
<circle cx="479.75" cy="308.47" r="3.25"/>
<circle cx="480.97" cy="308.49" r="3.25"/>
<circle cx="482.20" cy="308.50" r="3.25"/>
<circle cx="483.42" cy="308.52" r="3.25"/>
<circle cx="484.64" cy="308.53" r="3.25"/>
<circle cx="485.87" cy="308.55" r="3.25"/>
<circle cx="487.09" cy="308.56" r="3.25"/>
<circle cx="488.32" cy="308.58" r="3.25"/>
<circle cx="489.54" cy="308.60" r="3.25"/>
<circle cx="490.76" cy="308.61" r="3.25"/>
<circle cx="491.99" cy="308.63" r="3.25"/>
<circle cx="493.21" cy="308.64" r="3.25"/>
<circle cx="494.44" cy="308.66" r="3.25"/>
<circle cx="495.66" cy="308.67" r="3.25"/>
<circle cx="496.88" cy="308.69" r="3.25"/>
<circle cx="498.11" cy="308.70" r="3.25"/>
<circle cx="499.33" cy="308.72" r="3.25"/>
<circle cx="500.56" cy="308.73" r="3.25"/>
<circle cx="501.78" cy="308.75" r="3.25"/>
<circle cx="503.00" cy="308.76" r="3.25"/>
<circle cx="504.23" cy="308.77" r="3.25"/>
<circle cx="505.45" cy="308.79" r="3.25"/>
<circle cx="506.68" cy="308.80" r="3.25"/>
<circle cx="507.90" cy="308.82" r="3.25"/>
<circle cx="509.12" cy="308.83" r="3.25"/>
<circle cx="510.35" cy="308.85" r="3.25"/>
<circle cx="511.57" cy="308.86" r="3.25"/>
<circle cx="512.80" cy="308.87" r="3.25"/>
<circle cx="514.02" cy="308.89" r="3.25"/>
<circle cx="515.24" cy="308.90" r="3.25"/>
<circle cx="516.47" cy="308.92" r="3.25"/>
</g>
<g fill="#5B9BD5">
<circle cx="80.72" cy="61.00" r="3.25"/>
<circle cx="81.95" cy="91.24" r="3.25"/>
<circle cx="83.17" cy="107.25" r="3.25"/>
<circle cx="84.40" cy="117.92" r="3.25"/>
<circle cx="85.62" cy="125.83" r="3.25"/>
<circle cx="86.84" cy="132.07" r="3.25"/>
<circle cx="88.07" cy="137.22" r="3.25"/>
<circle cx="89.29" cy="141.61" r="3.25"/>
<circle cx="90.52" cy="145.47" r="3.25"/>
<circle cx="91.74" cy="148.91" r="3.25"/>
<circle cx="92.96" cy="152.02" r="3.25"/>
<circle cx="94.19" cy="154.86" r="3.25"/>
<circle cx="95.41" cy="157.46" r="3.25"/>
<circle cx="96.64" cy="159.86" r="3.25"/>
<circle cx="97.86" cy="162.06" r="3.25"/>
<circle cx="99.08" cy="164.09" r="3.25"/>
<circle cx="100.31" cy="165.96" r="3.25"/>
<circle cx="101.53" cy="167.68" r="3.25"/>
<circle cx="102.76" cy="169.27" r="3.25"/>
<circle cx="103.98" cy="170.73" r="3.25"/>
<circle cx="105.20" cy="172.08" r="3.25"/>
<circle cx="106.43" cy="173.33" r="3.25"/>
<circle cx="107.65" cy="174.49" r="3.25"/>
<circle cx="108.88" cy="175.57" r="3.25"/>
<circle cx="110.10" cy="176.58" r="3.25"/>
<circle cx="111.32" cy="177.52" r="3.25"/>
<circle cx="112.55" cy="178.41" r="3.25"/>
<circle cx="113.77" cy="179.26" r="3.25"/>
<circle cx="115.00" cy="180.06" r="3.25"/>
<circle cx="116.22" cy="180.82" r="3.25"/>
<circle cx="117.44" cy="181.55" r="3.25"/>
<circle cx="118.67" cy="182.25" r="3.25"/>
<circle cx="119.89" cy="182.92" r="3.25"/>
<circle cx="121.12" cy="183.56" r="3.25"/>
<circle cx="122.34" cy="184.19" r="3.25"/>
<circle cx="123.56" cy="184.79" r="3.25"/>
<circle cx="124.79" cy="185.38" r="3.25"/>
<circle cx="126.01" cy="185.95" r="3.25"/>
<circle cx="127.24" cy="186.51" r="3.25"/>
<circle cx="128.46" cy="187.05" r="3.25"/>
<circle cx="129.68" cy="187.57" r="3.25"/>
<circle cx="130.91" cy="188.09" r="3.25"/>
<circle cx="132.13" cy="188.59" r="3.25"/>
<circle cx="133.36" cy="189.08" r="3.25"/>
<circle cx="134.58" cy="189.56" r="3.25"/>
<circle cx="135.80" cy="190.03" r="3.25"/>
<circle cx="137.03" cy="190.49" r="3.25"/>
<circle cx="138.25" cy="190.95" r="3.25"/>
<circle cx="139.48" cy="191.39" r="3.25"/>
<circle cx="140.70" cy="191.82" r="3.25"/>
<circle cx="141.92" cy="192.24" r="3.25"/>
<circle cx="143.15" cy="192.66" r="3.25"/>
<circle cx="144.37" cy="193.07" r="3.25"/>
<circle cx="145.60" cy="193.47" r="3.25"/>
<circle cx="146.82" cy="193.86" r="3.25"/>
<circle cx="148.04" cy="194.25" r="3.25"/>
<circle cx="149.27" cy="194.62" r="3.25"/>
<circle cx="150.49" cy="195.00" r="3.25"/>
<circle cx="151.72" cy="195.36" r="3.25"/>
<circle cx="152.94" cy="195.72" r="3.25"/>
<circle cx="154.16" cy="196.07" r="3.25"/>
<circle cx="155.39" cy="196.42" r="3.25"/>
<circle cx="156.61" cy="196.76" r="3.25"/>
<circle cx="157.84" cy="197.09" r="3.25"/>
<circle cx="159.06" cy="197.42" r="3.25"/>
<circle cx="160.28" cy="197.74" r="3.25"/>
<circle cx="161.51" cy="198.06" r="3.25"/>
<circle cx="162.73" cy="198.37" r="3.25"/>
<circle cx="163.96" cy="198.68" r="3.25"/>
<circle cx="165.18" cy="198.98" r="3.25"/>
<circle cx="166.40" cy="199.27" r="3.25"/>
<circle cx="167.63" cy="199.57" r="3.25"/>
<circle cx="168.85" cy="199.85" r="3.25"/>
<circle cx="170.08" cy="200.14" r="3.25"/>
<circle cx="171.30" cy="200.42" r="3.25"/>
<circle cx="172.52" cy="200.69" r="3.25"/>
<circle cx="173.75" cy="200.96" r="3.25"/>
<circle cx="174.97" cy="201.23" r="3.25"/>
<circle cx="176.20" cy="201.49" r="3.25"/>
<circle cx="177.42" cy="201.75" r="3.25"/>
<circle cx="178.64" cy="202.01" r="3.25"/>
<circle cx="179.87" cy="202.26" r="3.25"/>
<circle cx="181.09" cy="202.51" r="3.25"/>
<circle cx="182.32" cy="202.75" r="3.25"/>
<circle cx="183.54" cy="202.99" r="3.25"/>
<circle cx="184.76" cy="203.23" r="3.25"/>
<circle cx="185.99" cy="203.46" r="3.25"/>
<circle cx="187.21" cy="203.70" r="3.25"/>
<circle cx="188.44" cy="203.92" r="3.25"/>
<circle cx="189.66" cy="204.15" r="3.25"/>
<circle cx="190.88" cy="204.37" r="3.25"/>
<circle cx="192.11" cy="204.59" r="3.25"/>
<circle cx="193.33" cy="204.81" r="3.25"/>
<circle cx="194.56" cy="205.02" r="3.25"/>
<circle cx="195.78" cy="205.24" r="3.25"/>
<circle cx="197.00" cy="205.45" r="3.25"/>
<circle cx="198.23" cy="205.65" r="3.25"/>
<circle cx="199.45" cy="205.86" r="3.25"/>
<circle cx="200.68" cy="206.06" r="3.25"/>
<circle cx="201.90" cy="206.26" r="3.25"/>
<circle cx="203.12" cy="206.45" r="3.25"/>
<circle cx="204.35" cy="206.65" r="3.25"/>
<circle cx="205.57" cy="206.84" r="3.25"/>
<circle cx="206.80" cy="207.03" r="3.25"/>
<circle cx="208.02" cy="207.22" r="3.25"/>
<circle cx="209.24" cy="207.41" r="3.25"/>
<circle cx="210.47" cy="207.59" r="3.25"/>
<circle cx="211.69" cy="207.77" r="3.25"/>
<circle cx="212.92" cy="207.95" r="3.25"/>
<circle cx="214.14" cy="208.13" r="3.25"/>
<circle cx="215.36" cy="208.31" r="3.25"/>
<circle cx="216.59" cy="208.48" r="3.25"/>
<circle cx="217.81" cy="208.66" r="3.25"/>
<circle cx="219.04" cy="208.83" r="3.25"/>
<circle cx="220.26" cy="209.00" r="3.25"/>
<circle cx="221.48" cy="209.16" r="3.25"/>
<circle cx="222.71" cy="209.33" r="3.25"/>
<circle cx="223.93" cy="209.49" r="3.25"/>
<circle cx="225.16" cy="209.66" r="3.25"/>
<circle cx="226.38" cy="209.82" r="3.25"/>
<circle cx="227.60" cy="209.98" r="3.25"/>
<circle cx="228.83" cy="210.13" r="3.25"/>
<circle cx="230.05" cy="210.29" r="3.25"/>
<circle cx="231.28" cy="210.45" r="3.25"/>
<circle cx="232.50" cy="210.60" r="3.25"/>
<circle cx="233.72" cy="210.75" r="3.25"/>
<circle cx="234.95" cy="210.90" r="3.25"/>
<circle cx="236.17" cy="211.05" r="3.25"/>
<circle cx="237.40" cy="211.20" r="3.25"/>
<circle cx="238.62" cy="211.35" r="3.25"/>
<circle cx="239.84" cy="211.49" r="3.25"/>
<circle cx="241.07" cy="211.63" r="3.25"/>
<circle cx="242.29" cy="211.78" r="3.25"/>
<circle cx="243.52" cy="211.92" r="3.25"/>
<circle cx="244.74" cy="212.06" r="3.25"/>
<circle cx="245.96" cy="212.20" r="3.25"/>
<circle cx="247.19" cy="212.34" r="3.25"/>
<circle cx="248.41" cy="212.47" r="3.25"/>
<circle cx="249.64" cy="212.61" r="3.25"/>
<circle cx="250.86" cy="212.74" r="3.25"/>
<circle cx="252.08" cy="212.88" r="3.25"/>
<circle cx="253.31" cy="213.01" r="3.25"/>
<circle cx="254.53" cy="213.14" r="3.25"/>
<circle cx="255.76" cy="213.27" r="3.25"/>
<circle cx="256.98" cy="213.40" r="3.25"/>
<circle cx="258.20" cy="213.53" r="3.25"/>
<circle cx="259.43" cy="213.65" r="3.25"/>
<circle cx="260.65" cy="213.78" r="3.25"/>
<circle cx="261.88" cy="213.90" r="3.25"/>
<circle cx="263.10" cy="214.03" r="3.25"/>
<circle cx="264.32" cy="214.15" r="3.25"/>
<circle cx="265.55" cy="214.27" r="3.25"/>
<circle cx="266.77" cy="214.39" r="3.25"/>
<circle cx="268.00" cy="214.51" r="3.25"/>
<circle cx="269.22" cy="214.63" r="3.25"/>
<circle cx="270.44" cy="214.75" r="3.25"/>
<circle cx="271.67" cy="214.87" r="3.25"/>
<circle cx="272.89" cy="214.99" r="3.25"/>
<circle cx="274.12" cy="215.10" r="3.25"/>
<circle cx="275.34" cy="215.22" r="3.25"/>
<circle cx="276.56" cy="215.33" r="3.25"/>
<circle cx="277.79" cy="215.44" r="3.25"/>
<circle cx="279.01" cy="215.56" r="3.25"/>
<circle cx="280.24" cy="215.67" r="3.25"/>
<circle cx="281.46" cy="215.78" r="3.25"/>
<circle cx="282.68" cy="215.89" r="3.25"/>
<circle cx="283.91" cy="216.00" r="3.25"/>
<circle cx="285.13" cy="216.11" r="3.25"/>
<circle cx="286.36" cy="216.22" r="3.25"/>
<circle cx="287.58" cy="216.32" r="3.25"/>
<circle cx="288.80" cy="216.43" r="3.25"/>
<circle cx="290.03" cy="216.53" r="3.25"/>
<circle cx="291.25" cy="216.64" r="3.25"/>
<circle cx="292.48" cy="216.74" r="3.25"/>
<circle cx="293.70" cy="216.85" r="3.25"/>
<circle cx="294.92" cy="216.95" r="3.25"/>
<circle cx="296.15" cy="217.05" r="3.25"/>
<circle cx="297.37" cy="217.15" r="3.25"/>
<circle cx="298.60" cy="217.25" r="3.25"/>
<circle cx="299.82" cy="217.35" r="3.25"/>
<circle cx="301.04" cy="217.45" r="3.25"/>
<circle cx="302.27" cy="217.55" r="3.25"/>
<circle cx="303.49" cy="217.65" r="3.25"/>
<circle cx="304.72" cy="217.75" r="3.25"/>
<circle cx="305.94" cy="217.85" r="3.25"/>
<circle cx="307.16" cy="217.94" r="3.25"/>
<circle cx="308.39" cy="218.04" r="3.25"/>
<circle cx="309.61" cy="218.13" r="3.25"/>
<circle cx="310.84" cy="218.23" r="3.25"/>
<circle cx="312.06" cy="218.32" r="3.25"/>
<circle cx="313.28" cy="218.42" r="3.25"/>
<circle cx="314.51" cy="218.51" r="3.25"/>
<circle cx="315.73" cy="218.60" r="3.25"/>
<circle cx="316.96" cy="218.69" r="3.25"/>
<circle cx="318.18" cy="218.78" r="3.25"/>
<circle cx="319.40" cy="218.87" r="3.25"/>
<circle cx="320.63" cy="218.97" r="3.25"/>
<circle cx="321.85" cy="219.05" r="3.25"/>
<circle cx="323.08" cy="219.14" r="3.25"/>
<circle cx="324.30" cy="219.23" r="3.25"/>
<circle cx="325.52" cy="219.32" r="3.25"/>
<circle cx="326.75" cy="219.41" r="3.25"/>
<circle cx="327.97" cy="219.50" r="3.25"/>
<circle cx="329.20" cy="219.58" r="3.25"/>
<circle cx="330.42" cy="219.67" r="3.25"/>
<circle cx="331.64" cy="219.75" r="3.25"/>
<circle cx="332.87" cy="219.84" r="3.25"/>
<circle cx="334.09" cy="219.92" r="3.25"/>
<circle cx="335.32" cy="220.01" r="3.25"/>
<circle cx="336.54" cy="220.09" r="3.25"/>
<circle cx="337.76" cy="220.17" r="3.25"/>
<circle cx="338.99" cy="220.26" r="3.25"/>
<circle cx="340.21" cy="220.34" r="3.25"/>
<circle cx="341.44" cy="220.42" r="3.25"/>
<circle cx="342.66" cy="220.50" r="3.25"/>
<circle cx="343.88" cy="220.58" r="3.25"/>
<circle cx="345.11" cy="220.66" r="3.25"/>
<circle cx="346.33" cy="220.74" r="3.25"/>
<circle cx="347.56" cy="220.82" r="3.25"/>
<circle cx="348.78" cy="220.90" r="3.25"/>
<circle cx="350.00" cy="220.98" r="3.25"/>
<circle cx="351.23" cy="221.06" r="3.25"/>
<circle cx="352.45" cy="221.14" r="3.25"/>
<circle cx="353.68" cy="221.22" r="3.25"/>
<circle cx="354.90" cy="221.29" r="3.25"/>
<circle cx="356.12" cy="221.37" r="3.25"/>
<circle cx="357.35" cy="221.45" r="3.25"/>
<circle cx="358.57" cy="221.52" r="3.25"/>
<circle cx="359.80" cy="221.60" r="3.25"/>
<circle cx="361.02" cy="221.67" r="3.25"/>
<circle cx="362.24" cy="221.75" r="3.25"/>
<circle cx="363.47" cy="221.82" r="3.25"/>
<circle cx="364.69" cy="221.90" r="3.25"/>
<circle cx="365.92" cy="221.97" r="3.25"/>
<circle cx="367.14" cy="222.04" r="3.25"/>
<circle cx="368.36" cy="222.12" r="3.25"/>
<circle cx="369.59" cy="222.19" r="3.25"/>
<circle cx="370.81" cy="222.26" r="3.25"/>
<circle cx="372.04" cy="222.33" r="3.25"/>
<circle cx="373.26" cy="222.40" r="3.25"/>
<circle cx="374.48" cy="222.48" r="3.25"/>
<circle cx="375.71" cy="222.55" r="3.25"/>
<circle cx="376.93" cy="222.62" r="3.25"/>
<circle cx="378.16" cy="222.69" r="3.25"/>
<circle cx="379.38" cy="222.76" r="3.25"/>
<circle cx="380.60" cy="222.83" r="3.25"/>
<circle cx="381.83" cy="222.90" r="3.25"/>
<circle cx="383.05" cy="222.97" r="3.25"/>
<circle cx="384.28" cy="223.03" r="3.25"/>
<circle cx="385.50" cy="223.08" r="3.25"/>
<circle cx="386.72" cy="223.15" r="3.25"/>
<circle cx="387.95" cy="223.22" r="3.25"/>
<circle cx="389.17" cy="223.28" r="3.25"/>
<circle cx="390.40" cy="223.35" r="3.25"/>
<circle cx="391.62" cy="223.42" r="3.25"/>
<circle cx="392.84" cy="223.49" r="3.25"/>
<circle cx="394.07" cy="223.55" r="3.25"/>
<circle cx="395.29" cy="223.62" r="3.25"/>
<circle cx="396.52" cy="223.68" r="3.25"/>
<circle cx="397.74" cy="223.75" r="3.25"/>
<circle cx="398.96" cy="223.81" r="3.25"/>
<circle cx="400.19" cy="223.88" r="3.25"/>
<circle cx="401.41" cy="223.94" r="3.25"/>
<circle cx="402.64" cy="224.01" r="3.25"/>
<circle cx="403.86" cy="224.07" r="3.25"/>
<circle cx="405.08" cy="224.14" r="3.25"/>
<circle cx="406.31" cy="224.20" r="3.25"/>
<circle cx="407.53" cy="224.26" r="3.25"/>
<circle cx="408.76" cy="224.32" r="3.25"/>
<circle cx="409.98" cy="224.39" r="3.25"/>
<circle cx="411.20" cy="224.45" r="3.25"/>
<circle cx="412.43" cy="224.51" r="3.25"/>
<circle cx="413.65" cy="224.57" r="3.25"/>
<circle cx="414.88" cy="224.63" r="3.25"/>
<circle cx="416.10" cy="224.70" r="3.25"/>
<circle cx="417.32" cy="224.76" r="3.25"/>
<circle cx="418.55" cy="224.82" r="3.25"/>
<circle cx="419.77" cy="224.88" r="3.25"/>
<circle cx="421.00" cy="224.94" r="3.25"/>
<circle cx="422.22" cy="225.00" r="3.25"/>
<circle cx="423.44" cy="225.06" r="3.25"/>
<circle cx="424.67" cy="225.12" r="3.25"/>
<circle cx="425.89" cy="225.18" r="3.25"/>
<circle cx="427.12" cy="225.24" r="3.25"/>
<circle cx="428.34" cy="225.29" r="3.25"/>
<circle cx="429.56" cy="225.35" r="3.25"/>
<circle cx="430.79" cy="225.41" r="3.25"/>
<circle cx="432.01" cy="225.47" r="3.25"/>
<circle cx="433.24" cy="225.53" r="3.25"/>
<circle cx="434.46" cy="225.58" r="3.25"/>
<circle cx="435.68" cy="225.64" r="3.25"/>
<circle cx="436.91" cy="225.70" r="3.25"/>
<circle cx="438.13" cy="225.75" r="3.25"/>
<circle cx="439.36" cy="225.81" r="3.25"/>
<circle cx="440.58" cy="225.87" r="3.25"/>
<circle cx="441.80" cy="225.92" r="3.25"/>
<circle cx="443.03" cy="225.98" r="3.25"/>
<circle cx="444.25" cy="226.04" r="3.25"/>
<circle cx="445.48" cy="226.09" r="3.25"/>
<circle cx="446.70" cy="226.15" r="3.25"/>
<circle cx="447.92" cy="226.20" r="3.25"/>
<circle cx="449.15" cy="226.26" r="3.25"/>
<circle cx="450.37" cy="226.31" r="3.25"/>
<circle cx="451.60" cy="226.36" r="3.25"/>
<circle cx="452.82" cy="226.42" r="3.25"/>
<circle cx="454.04" cy="226.47" r="3.25"/>
<circle cx="455.27" cy="226.53" r="3.25"/>
<circle cx="456.49" cy="226.58" r="3.25"/>
<circle cx="457.72" cy="226.63" r="3.25"/>
<circle cx="458.94" cy="226.69" r="3.25"/>
<circle cx="460.16" cy="226.74" r="3.25"/>
<circle cx="461.39" cy="226.79" r="3.25"/>
<circle cx="462.61" cy="226.84" r="3.25"/>
<circle cx="463.84" cy="226.90" r="3.25"/>
<circle cx="465.06" cy="226.95" r="3.25"/>
<circle cx="466.28" cy="227.00" r="3.25"/>
<circle cx="467.51" cy="227.05" r="3.25"/>
<circle cx="468.73" cy="227.10" r="3.25"/>
<circle cx="469.96" cy="227.16" r="3.25"/>
<circle cx="471.18" cy="227.21" r="3.25"/>
<circle cx="472.40" cy="227.26" r="3.25"/>
<circle cx="473.63" cy="227.31" r="3.25"/>
<circle cx="474.85" cy="227.36" r="3.25"/>
<circle cx="476.08" cy="227.41" r="3.25"/>
<circle cx="477.30" cy="227.46" r="3.25"/>
<circle cx="478.52" cy="227.51" r="3.25"/>
<circle cx="479.75" cy="227.56" r="3.25"/>
<circle cx="480.97" cy="227.61" r="3.25"/>
<circle cx="482.20" cy="227.66" r="3.25"/>
<circle cx="483.42" cy="227.71" r="3.25"/>
<circle cx="484.64" cy="227.76" r="3.25"/>
<circle cx="485.87" cy="227.81" r="3.25"/>
<circle cx="487.09" cy="227.86" r="3.25"/>
<circle cx="488.32" cy="227.90" r="3.25"/>
<circle cx="489.54" cy="227.95" r="3.25"/>
<circle cx="490.76" cy="228.00" r="3.25"/>
<circle cx="491.99" cy="228.05" r="3.25"/>
<circle cx="493.21" cy="228.10" r="3.25"/>
<circle cx="494.44" cy="228.14" r="3.25"/>
<circle cx="495.66" cy="228.19" r="3.25"/>
<circle cx="496.88" cy="228.24" r="3.25"/>
<circle cx="498.11" cy="228.29" r="3.25"/>
<circle cx="499.33" cy="228.33" r="3.25"/>
<circle cx="500.56" cy="228.38" r="3.25"/>
<circle cx="501.78" cy="228.43" r="3.25"/>
<circle cx="503.00" cy="228.47" r="3.25"/>
<circle cx="504.23" cy="228.52" r="3.25"/>
<circle cx="505.45" cy="228.57" r="3.25"/>
<circle cx="506.68" cy="228.61" r="3.25"/>
<circle cx="507.90" cy="228.66" r="3.25"/>
<circle cx="509.12" cy="228.71" r="3.25"/>
<circle cx="510.35" cy="228.75" r="3.25"/>
<circle cx="511.57" cy="228.80" r="3.25"/>
<circle cx="512.80" cy="228.84" r="3.25"/>
<circle cx="514.02" cy="228.89" r="3.25"/>
<circle cx="515.24" cy="228.93" r="3.25"/>
<circle cx="516.47" cy="228.98" r="3.25"/>
</g>
<g fill="#70AD47">
<circle cx="80.72" cy="61.00" r="3.25"/>
<circle cx="81.95" cy="92.81" r="3.25"/>
<circle cx="83.17" cy="109.55" r="3.25"/>
<circle cx="84.40" cy="120.67" r="3.25"/>
<circle cx="85.62" cy="128.89" r="3.25"/>
<circle cx="86.84" cy="135.36" r="3.25"/>
<circle cx="88.07" cy="140.69" r="3.25"/>
<circle cx="89.29" cy="145.23" r="3.25"/>
<circle cx="90.52" cy="149.19" r="3.25"/>
<circle cx="91.74" cy="152.71" r="3.25"/>
<circle cx="92.96" cy="155.89" r="3.25"/>
<circle cx="94.19" cy="158.79" r="3.25"/>
<circle cx="95.41" cy="161.44" r="3.25"/>
<circle cx="96.64" cy="163.87" r="3.25"/>
<circle cx="97.86" cy="166.11" r="3.25"/>
<circle cx="99.08" cy="168.17" r="3.25"/>
<circle cx="100.31" cy="170.06" r="3.25"/>
<circle cx="101.53" cy="171.80" r="3.25"/>
<circle cx="102.76" cy="173.40" r="3.25"/>
<circle cx="103.98" cy="174.88" r="3.25"/>
<circle cx="105.20" cy="176.24" r="3.25"/>
<circle cx="106.43" cy="177.50" r="3.25"/>
<circle cx="107.65" cy="178.67" r="3.25"/>
<circle cx="108.88" cy="179.77" r="3.25"/>
<circle cx="110.10" cy="180.79" r="3.25"/>
<circle cx="111.32" cy="181.74" r="3.25"/>
<circle cx="112.55" cy="182.65" r="3.25"/>
<circle cx="113.77" cy="183.50" r="3.25"/>
<circle cx="115.00" cy="184.31" r="3.25"/>
<circle cx="116.22" cy="185.08" r="3.25"/>
<circle cx="117.44" cy="185.82" r="3.25"/>
<circle cx="118.67" cy="186.53" r="3.25"/>
<circle cx="119.89" cy="187.21" r="3.25"/>
<circle cx="121.12" cy="187.87" r="3.25"/>
<circle cx="122.34" cy="188.50" r="3.25"/>
<circle cx="123.56" cy="189.12" r="3.25"/>
<circle cx="124.79" cy="189.72" r="3.25"/>
<circle cx="126.01" cy="190.30" r="3.25"/>
<circle cx="127.24" cy="190.86" r="3.25"/>
<circle cx="128.46" cy="191.41" r="3.25"/>
<circle cx="129.68" cy="191.95" r="3.25"/>
<circle cx="130.91" cy="192.47" r="3.25"/>
<circle cx="132.13" cy="192.99" r="3.25"/>
<circle cx="133.36" cy="193.49" r="3.25"/>
<circle cx="134.58" cy="193.98" r="3.25"/>
<circle cx="135.80" cy="194.46" r="3.25"/>
<circle cx="137.03" cy="194.93" r="3.25"/>
<circle cx="138.25" cy="195.39" r="3.25"/>
<circle cx="139.48" cy="195.84" r="3.25"/>
<circle cx="140.70" cy="196.28" r="3.25"/>
<circle cx="141.92" cy="196.71" r="3.25"/>
<circle cx="143.15" cy="197.14" r="3.25"/>
<circle cx="144.37" cy="197.55" r="3.25"/>
<circle cx="145.60" cy="197.96" r="3.25"/>
<circle cx="146.82" cy="198.36" r="3.25"/>
<circle cx="148.04" cy="198.76" r="3.25"/>
<circle cx="149.27" cy="199.14" r="3.25"/>
<circle cx="150.49" cy="199.52" r="3.25"/>
<circle cx="151.72" cy="199.90" r="3.25"/>
<circle cx="152.94" cy="200.26" r="3.25"/>
<circle cx="154.16" cy="200.62" r="3.25"/>
<circle cx="155.39" cy="200.98" r="3.25"/>
<circle cx="156.61" cy="201.33" r="3.25"/>
<circle cx="157.84" cy="201.67" r="3.25"/>
<circle cx="159.06" cy="202.00" r="3.25"/>
<circle cx="160.28" cy="202.33" r="3.25"/>
<circle cx="161.51" cy="202.66" r="3.25"/>
<circle cx="162.73" cy="202.98" r="3.25"/>
<circle cx="163.96" cy="203.29" r="3.25"/>
<circle cx="165.18" cy="203.60" r="3.25"/>
<circle cx="166.40" cy="203.91" r="3.25"/>
<circle cx="167.63" cy="204.21" r="3.25"/>
<circle cx="168.85" cy="204.50" r="3.25"/>
<circle cx="170.08" cy="204.79" r="3.25"/>
<circle cx="171.30" cy="205.08" r="3.25"/>
<circle cx="172.52" cy="205.36" r="3.25"/>
<circle cx="173.75" cy="205.64" r="3.25"/>
<circle cx="174.97" cy="205.91" r="3.25"/>
<circle cx="176.20" cy="206.18" r="3.25"/>
<circle cx="177.42" cy="206.45" r="3.25"/>
<circle cx="178.64" cy="206.71" r="3.25"/>
<circle cx="179.87" cy="206.97" r="3.25"/>
<circle cx="181.09" cy="207.22" r="3.25"/>
<circle cx="182.32" cy="207.47" r="3.25"/>
<circle cx="183.54" cy="207.72" r="3.25"/>
<circle cx="184.76" cy="207.96" r="3.25"/>
<circle cx="185.99" cy="208.20" r="3.25"/>
<circle cx="187.21" cy="208.44" r="3.25"/>
<circle cx="188.44" cy="208.68" r="3.25"/>
<circle cx="189.66" cy="208.91" r="3.25"/>
<circle cx="190.88" cy="209.14" r="3.25"/>
<circle cx="192.11" cy="209.36" r="3.25"/>
<circle cx="193.33" cy="209.58" r="3.25"/>
<circle cx="194.56" cy="209.80" r="3.25"/>
<circle cx="195.78" cy="210.02" r="3.25"/>
<circle cx="197.00" cy="210.24" r="3.25"/>
<circle cx="198.23" cy="210.45" r="3.25"/>
<circle cx="199.45" cy="210.66" r="3.25"/>
<circle cx="200.68" cy="210.86" r="3.25"/>
<circle cx="201.90" cy="211.07" r="3.25"/>
<circle cx="203.12" cy="211.27" r="3.25"/>
<circle cx="204.35" cy="211.47" r="3.25"/>
<circle cx="205.57" cy="211.67" r="3.25"/>
<circle cx="206.80" cy="211.86" r="3.25"/>
<circle cx="208.02" cy="212.05" r="3.25"/>
<circle cx="209.24" cy="212.24" r="3.25"/>
<circle cx="210.47" cy="212.43" r="3.25"/>
<circle cx="211.69" cy="212.62" r="3.25"/>
<circle cx="212.92" cy="212.80" r="3.25"/>
<circle cx="214.14" cy="212.99" r="3.25"/>
<circle cx="215.36" cy="213.17" r="3.25"/>
<circle cx="216.59" cy="213.34" r="3.25"/>
<circle cx="217.81" cy="213.52" r="3.25"/>
<circle cx="219.04" cy="213.70" r="3.25"/>
<circle cx="220.26" cy="213.87" r="3.25"/>
<circle cx="221.48" cy="214.04" r="3.25"/>
<circle cx="222.71" cy="214.21" r="3.25"/>
<circle cx="223.93" cy="214.38" r="3.25"/>
<circle cx="225.16" cy="214.54" r="3.25"/>
<circle cx="226.38" cy="214.71" r="3.25"/>
<circle cx="227.60" cy="214.87" r="3.25"/>
<circle cx="228.83" cy="215.03" r="3.25"/>
<circle cx="230.05" cy="215.19" r="3.25"/>
<circle cx="231.28" cy="215.35" r="3.25"/>
<circle cx="232.50" cy="215.51" r="3.25"/>
<circle cx="233.72" cy="215.66" r="3.25"/>
<circle cx="234.95" cy="215.81" r="3.25"/>
<circle cx="236.17" cy="215.97" r="3.25"/>
<circle cx="237.40" cy="216.12" r="3.25"/>
<circle cx="238.62" cy="216.27" r="3.25"/>
<circle cx="239.84" cy="216.41" r="3.25"/>
<circle cx="241.07" cy="216.56" r="3.25"/>
<circle cx="242.29" cy="216.71" r="3.25"/>
<circle cx="243.52" cy="216.85" r="3.25"/>
<circle cx="244.74" cy="216.99" r="3.25"/>
<circle cx="245.96" cy="217.14" r="3.25"/>
<circle cx="247.19" cy="217.28" r="3.25"/>
<circle cx="248.41" cy="217.41" r="3.25"/>
<circle cx="249.64" cy="217.55" r="3.25"/>
<circle cx="250.86" cy="217.69" r="3.25"/>
<circle cx="252.08" cy="217.83" r="3.25"/>
<circle cx="253.31" cy="217.96" r="3.25"/>
<circle cx="254.53" cy="218.09" r="3.25"/>
<circle cx="255.76" cy="218.23" r="3.25"/>
<circle cx="256.98" cy="218.36" r="3.25"/>
<circle cx="258.20" cy="218.49" r="3.25"/>
<circle cx="259.43" cy="218.62" r="3.25"/>
<circle cx="260.65" cy="218.74" r="3.25"/>
<circle cx="261.88" cy="218.87" r="3.25"/>
<circle cx="263.10" cy="219.00" r="3.25"/>
<circle cx="264.32" cy="219.12" r="3.25"/>
<circle cx="265.55" cy="219.24" r="3.25"/>
<circle cx="266.77" cy="219.37" r="3.25"/>
<circle cx="268.00" cy="219.49" r="3.25"/>
<circle cx="269.22" cy="219.61" r="3.25"/>
<circle cx="270.44" cy="219.73" r="3.25"/>
<circle cx="271.67" cy="219.85" r="3.25"/>
<circle cx="272.89" cy="219.97" r="3.25"/>
<circle cx="274.12" cy="220.09" r="3.25"/>
<circle cx="275.34" cy="220.20" r="3.25"/>
<circle cx="276.56" cy="220.32" r="3.25"/>
<circle cx="277.79" cy="220.43" r="3.25"/>
<circle cx="279.01" cy="220.55" r="3.25"/>
<circle cx="280.24" cy="220.66" r="3.25"/>
<circle cx="281.46" cy="220.77" r="3.25"/>
<circle cx="282.68" cy="220.88" r="3.25"/>
<circle cx="283.91" cy="221.00" r="3.25"/>
<circle cx="285.13" cy="221.11" r="3.25"/>
<circle cx="286.36" cy="221.21" r="3.25"/>
<circle cx="287.58" cy="221.32" r="3.25"/>
<circle cx="288.80" cy="221.43" r="3.25"/>
<circle cx="290.03" cy="221.54" r="3.25"/>
<circle cx="291.25" cy="221.64" r="3.25"/>
<circle cx="292.48" cy="221.75" r="3.25"/>
<circle cx="293.70" cy="221.85" r="3.25"/>
<circle cx="294.92" cy="221.96" r="3.25"/>
<circle cx="296.15" cy="222.06" r="3.25"/>
<circle cx="297.37" cy="222.16" r="3.25"/>
<circle cx="298.60" cy="222.27" r="3.25"/>
<circle cx="299.82" cy="222.37" r="3.25"/>
<circle cx="301.04" cy="222.47" r="3.25"/>
<circle cx="302.27" cy="222.57" r="3.25"/>
<circle cx="303.49" cy="222.67" r="3.25"/>
<circle cx="304.72" cy="222.77" r="3.25"/>
<circle cx="305.94" cy="222.86" r="3.25"/>
<circle cx="307.16" cy="222.96" r="3.25"/>
<circle cx="308.39" cy="223.06" r="3.25"/>
<circle cx="309.61" cy="223.15" r="3.25"/>
<circle cx="310.84" cy="223.25" r="3.25"/>
<circle cx="312.06" cy="223.34" r="3.25"/>
<circle cx="313.28" cy="223.44" r="3.25"/>
<circle cx="314.51" cy="223.53" r="3.25"/>
<circle cx="315.73" cy="223.63" r="3.25"/>
<circle cx="316.96" cy="223.72" r="3.25"/>
<circle cx="318.18" cy="223.81" r="3.25"/>
<circle cx="319.40" cy="223.90" r="3.25"/>
<circle cx="320.63" cy="223.99" r="3.25"/>
<circle cx="321.85" cy="224.08" r="3.25"/>
<circle cx="323.08" cy="224.17" r="3.25"/>
<circle cx="324.30" cy="224.26" r="3.25"/>
<circle cx="325.52" cy="224.35" r="3.25"/>
<circle cx="326.75" cy="224.44" r="3.25"/>
<circle cx="327.97" cy="224.53" r="3.25"/>
<circle cx="329.20" cy="224.61" r="3.25"/>
<circle cx="330.42" cy="224.70" r="3.25"/>
<circle cx="331.64" cy="224.79" r="3.25"/>
<circle cx="332.87" cy="224.87" r="3.25"/>
<circle cx="334.09" cy="224.96" r="3.25"/>
<circle cx="335.32" cy="225.04" r="3.25"/>
<circle cx="336.54" cy="225.13" r="3.25"/>
<circle cx="337.76" cy="225.21" r="3.25"/>
<circle cx="338.99" cy="225.29" r="3.25"/>
<circle cx="340.21" cy="225.38" r="3.25"/>
<circle cx="341.44" cy="225.46" r="3.25"/>
<circle cx="342.66" cy="225.54" r="3.25"/>
<circle cx="343.88" cy="225.62" r="3.25"/>
<circle cx="345.11" cy="225.70" r="3.25"/>
<circle cx="346.33" cy="225.78" r="3.25"/>
<circle cx="347.56" cy="225.86" r="3.25"/>
<circle cx="348.78" cy="225.94" r="3.25"/>
<circle cx="350.00" cy="226.02" r="3.25"/>
<circle cx="351.23" cy="226.10" r="3.25"/>
<circle cx="352.45" cy="226.18" r="3.25"/>
<circle cx="353.68" cy="226.26" r="3.25"/>
<circle cx="354.90" cy="226.34" r="3.25"/>
<circle cx="356.12" cy="226.41" r="3.25"/>
<circle cx="357.35" cy="226.49" r="3.25"/>
<circle cx="358.57" cy="226.57" r="3.25"/>
<circle cx="359.80" cy="226.64" r="3.25"/>
<circle cx="361.02" cy="226.72" r="3.25"/>
<circle cx="362.24" cy="226.79" r="3.25"/>
<circle cx="363.47" cy="226.87" r="3.25"/>
<circle cx="364.69" cy="226.94" r="3.25"/>
<circle cx="365.92" cy="227.02" r="3.25"/>
<circle cx="367.14" cy="227.09" r="3.25"/>
<circle cx="368.36" cy="227.16" r="3.25"/>
<circle cx="369.59" cy="227.24" r="3.25"/>
<circle cx="370.81" cy="227.31" r="3.25"/>
<circle cx="372.04" cy="227.38" r="3.25"/>
<circle cx="373.26" cy="227.45" r="3.25"/>
<circle cx="374.48" cy="227.52" r="3.25"/>
<circle cx="375.71" cy="227.60" r="3.25"/>
<circle cx="376.93" cy="227.67" r="3.25"/>
<circle cx="378.16" cy="227.74" r="3.25"/>
<circle cx="379.38" cy="227.81" r="3.25"/>
<circle cx="380.60" cy="227.88" r="3.25"/>
<circle cx="381.83" cy="227.95" r="3.25"/>
<circle cx="383.05" cy="228.02" r="3.25"/>
<circle cx="384.28" cy="228.08" r="3.25"/>
<circle cx="385.50" cy="228.15" r="3.25"/>
<circle cx="386.72" cy="228.22" r="3.25"/>
<circle cx="387.95" cy="228.29" r="3.25"/>
<circle cx="389.17" cy="228.36" r="3.25"/>
<circle cx="390.40" cy="228.42" r="3.25"/>
<circle cx="391.62" cy="228.49" r="3.25"/>
<circle cx="392.84" cy="228.56" r="3.25"/>
<circle cx="394.07" cy="228.62" r="3.25"/>
<circle cx="395.29" cy="228.69" r="3.25"/>
<circle cx="396.52" cy="228.75" r="3.25"/>
<circle cx="397.74" cy="228.82" r="3.25"/>
<circle cx="398.96" cy="228.88" r="3.25"/>
<circle cx="400.19" cy="228.95" r="3.25"/>
<circle cx="401.41" cy="229.01" r="3.25"/>
<circle cx="402.64" cy="229.08" r="3.25"/>
<circle cx="403.86" cy="229.14" r="3.25"/>
<circle cx="405.08" cy="229.21" r="3.25"/>
<circle cx="406.31" cy="229.27" r="3.25"/>
<circle cx="407.53" cy="229.33" r="3.25"/>
<circle cx="408.76" cy="229.39" r="3.25"/>
<circle cx="409.98" cy="229.46" r="3.25"/>
<circle cx="411.20" cy="229.52" r="3.25"/>
<circle cx="412.43" cy="229.58" r="3.25"/>
<circle cx="413.65" cy="229.64" r="3.25"/>
<circle cx="414.88" cy="229.70" r="3.25"/>
<circle cx="416.10" cy="229.76" r="3.25"/>
<circle cx="417.32" cy="229.83" r="3.25"/>
<circle cx="418.55" cy="229.89" r="3.25"/>
<circle cx="419.77" cy="229.95" r="3.25"/>
<circle cx="421.00" cy="230.01" r="3.25"/>
<circle cx="422.22" cy="230.07" r="3.25"/>
<circle cx="423.44" cy="230.13" r="3.25"/>
<circle cx="424.67" cy="230.18" r="3.25"/>
<circle cx="425.89" cy="230.24" r="3.25"/>
<circle cx="427.12" cy="230.30" r="3.25"/>
<circle cx="428.34" cy="230.36" r="3.25"/>
<circle cx="429.56" cy="230.42" r="3.25"/>
<circle cx="430.79" cy="230.48" r="3.25"/>
<circle cx="432.01" cy="230.54" r="3.25"/>
<circle cx="433.24" cy="230.59" r="3.25"/>
<circle cx="434.46" cy="230.65" r="3.25"/>
<circle cx="435.68" cy="230.71" r="3.25"/>
<circle cx="436.91" cy="230.76" r="3.25"/>
<circle cx="438.13" cy="230.82" r="3.25"/>
<circle cx="439.36" cy="230.88" r="3.25"/>
<circle cx="440.58" cy="230.93" r="3.25"/>
<circle cx="441.80" cy="230.99" r="3.25"/>
<circle cx="443.03" cy="231.04" r="3.25"/>
<circle cx="444.25" cy="231.10" r="3.25"/>
<circle cx="445.48" cy="231.16" r="3.25"/>
<circle cx="446.70" cy="231.21" r="3.25"/>
<circle cx="447.92" cy="231.27" r="3.25"/>
<circle cx="449.15" cy="231.32" r="3.25"/>
<circle cx="450.37" cy="231.37" r="3.25"/>
<circle cx="451.60" cy="231.43" r="3.25"/>
<circle cx="452.82" cy="231.48" r="3.25"/>
<circle cx="454.04" cy="231.54" r="3.25"/>
<circle cx="455.27" cy="231.59" r="3.25"/>
<circle cx="456.49" cy="231.64" r="3.25"/>
<circle cx="457.72" cy="231.70" r="3.25"/>
<circle cx="458.94" cy="231.75" r="3.25"/>
<circle cx="460.16" cy="231.80" r="3.25"/>
<circle cx="461.39" cy="231.85" r="3.25"/>
<circle cx="462.61" cy="231.91" r="3.25"/>
<circle cx="463.84" cy="231.96" r="3.25"/>
<circle cx="465.06" cy="232.01" r="3.25"/>
<circle cx="466.28" cy="232.06" r="3.25"/>
<circle cx="467.51" cy="232.11" r="3.25"/>
<circle cx="468.73" cy="232.17" r="3.25"/>
<circle cx="469.96" cy="232.22" r="3.25"/>
<circle cx="471.18" cy="232.27" r="3.25"/>
<circle cx="472.40" cy="232.32" r="3.25"/>
<circle cx="473.63" cy="232.37" r="3.25"/>
<circle cx="474.85" cy="232.42" r="3.25"/>
<circle cx="476.08" cy="232.47" r="3.25"/>
<circle cx="477.30" cy="232.52" r="3.25"/>
<circle cx="478.52" cy="232.57" r="3.25"/>
<circle cx="479.75" cy="232.62" r="3.25"/>
<circle cx="480.97" cy="232.67" r="3.25"/>
<circle cx="482.20" cy="232.72" r="3.25"/>
<circle cx="483.42" cy="232.77" r="3.25"/>
<circle cx="484.64" cy="232.82" r="3.25"/>
<circle cx="485.87" cy="232.87" r="3.25"/>
<circle cx="487.09" cy="232.91" r="3.25"/>
<circle cx="488.32" cy="232.96" r="3.25"/>
<circle cx="489.54" cy="233.01" r="3.25"/>
<circle cx="490.76" cy="233.06" r="3.25"/>
<circle cx="491.99" cy="233.11" r="3.25"/>
<circle cx="493.21" cy="233.15" r="3.25"/>
<circle cx="494.44" cy="233.20" r="3.25"/>
<circle cx="495.66" cy="233.25" r="3.25"/>
<circle cx="496.88" cy="233.30" r="3.25"/>
<circle cx="498.11" cy="233.34" r="3.25"/>
<circle cx="499.33" cy="233.39" r="3.25"/>
<circle cx="500.56" cy="233.44" r="3.25"/>
<circle cx="501.78" cy="233.48" r="3.25"/>
<circle cx="503.00" cy="233.53" r="3.25"/>
<circle cx="504.23" cy="233.58" r="3.25"/>
<circle cx="505.45" cy="233.62" r="3.25"/>
<circle cx="506.68" cy="233.67" r="3.25"/>
<circle cx="507.90" cy="233.71" r="3.25"/>
<circle cx="509.12" cy="233.76" r="3.25"/>
<circle cx="510.35" cy="233.81" r="3.25"/>
<circle cx="511.57" cy="233.85" r="3.25"/>
<circle cx="512.80" cy="233.90" r="3.25"/>
<circle cx="514.02" cy="233.94" r="3.25"/>
<circle cx="515.24" cy="233.99" r="3.25"/>
<circle cx="516.47" cy="234.03" r="3.25"/>
</g>
<rect x="160.6" y="36.8" width="358.7" height="79.9" fill="#fff" stroke="#a6a6a6" stroke-width="1"/>
<text x="192.7" y="54.6" font-size="12.3" fill="#000" stroke="#000" stroke-width="0.3" font-style="italic" textLength="119.7" lengthAdjust="spacingAndGlyphs">Leucaspius delineatus</text>
<text x="199.6" y="81.5" font-size="12.3" fill="#000" stroke="#000" stroke-width="0.3" font-style="italic" textLength="100.1" lengthAdjust="spacingAndGlyphs">Saualius fellowesii</text>
<text x="170.8" y="95.0" font-size="12.3" fill="#000" stroke="#000" stroke-width="0.3" font-style="italic" textLength="141.3" lengthAdjust="spacingAndGlyphs">Petroleuciscus smvrnaeus</text>
<text x="197.7" y="107.7" font-size="12.3" fill="#000" stroke="#000" stroke-width="0.3" font-style="italic" textLength="115.9" lengthAdjust="spacingAndGlyphs">Oxynoemacheilus sp.</text>
<text x="364.3" y="54.4" font-size="10" fill="#000" stroke="#000" stroke-width="0.2" textLength="43.9" lengthAdjust="spacingAndGlyphs">Aquarium</text>
<text x="365.2" y="69.6" font-size="10" fill="#000" stroke="#000" stroke-width="0.2" textLength="26.3" lengthAdjust="spacingAndGlyphs">Ponds</text>
<text x="366.1" y="95.8" font-size="10" fill="#000" stroke="#000" stroke-width="0.2" textLength="47.6" lengthAdjust="spacingAndGlyphs">Catchment</text>
<text x="417.8" y="58.7" font-size="12.4" fill="#000" stroke="#000" stroke-width="0.3" font-style="italic" textLength="98.9" lengthAdjust="spacingAndGlyphs">Gozlan et al. 2005</text>
<text x="422.4" y="97.2" font-size="12.4" fill="#000" stroke="#000" stroke-width="0.3" font-style="italic" textLength="92.2" lengthAdjust="spacingAndGlyphs">Ercan et al. 2015</text>
<rect x="329.3" y="42.80" width="27.3" height="4.3" fill="#22A7F0"/>
<rect x="329.3" y="51.60" width="27.3" height="3.7" fill="#508A30"/>
<rect x="329.3" y="64.30" width="27.3" height="4.3" fill="#FFC000"/>
<rect x="329.3" y="77.60" width="27.3" height="4.3" fill="#4472C4"/>
<rect x="329.3" y="90.90" width="27.3" height="4.1" fill="#808080"/>
<rect x="329.3" y="102.70" width="27.3" height="4.3" fill="#C55A11"/>
<line x1="324.4" y1="41.6" x2="324.4" y2="69.4" stroke="#000" stroke-width="2.1"/>
<line x1="362.0" y1="40.2" x2="362.0" y2="57.2" stroke="#000" stroke-width="2.1"/>
<line x1="362.0" y1="75.2" x2="362.0" y2="108.4" stroke="#000" stroke-width="2.1"/>
<line x1="412.6" y1="37.5" x2="412.6" y2="70.4" stroke="#000" stroke-width="2.2"/>
</svg></body></html>
